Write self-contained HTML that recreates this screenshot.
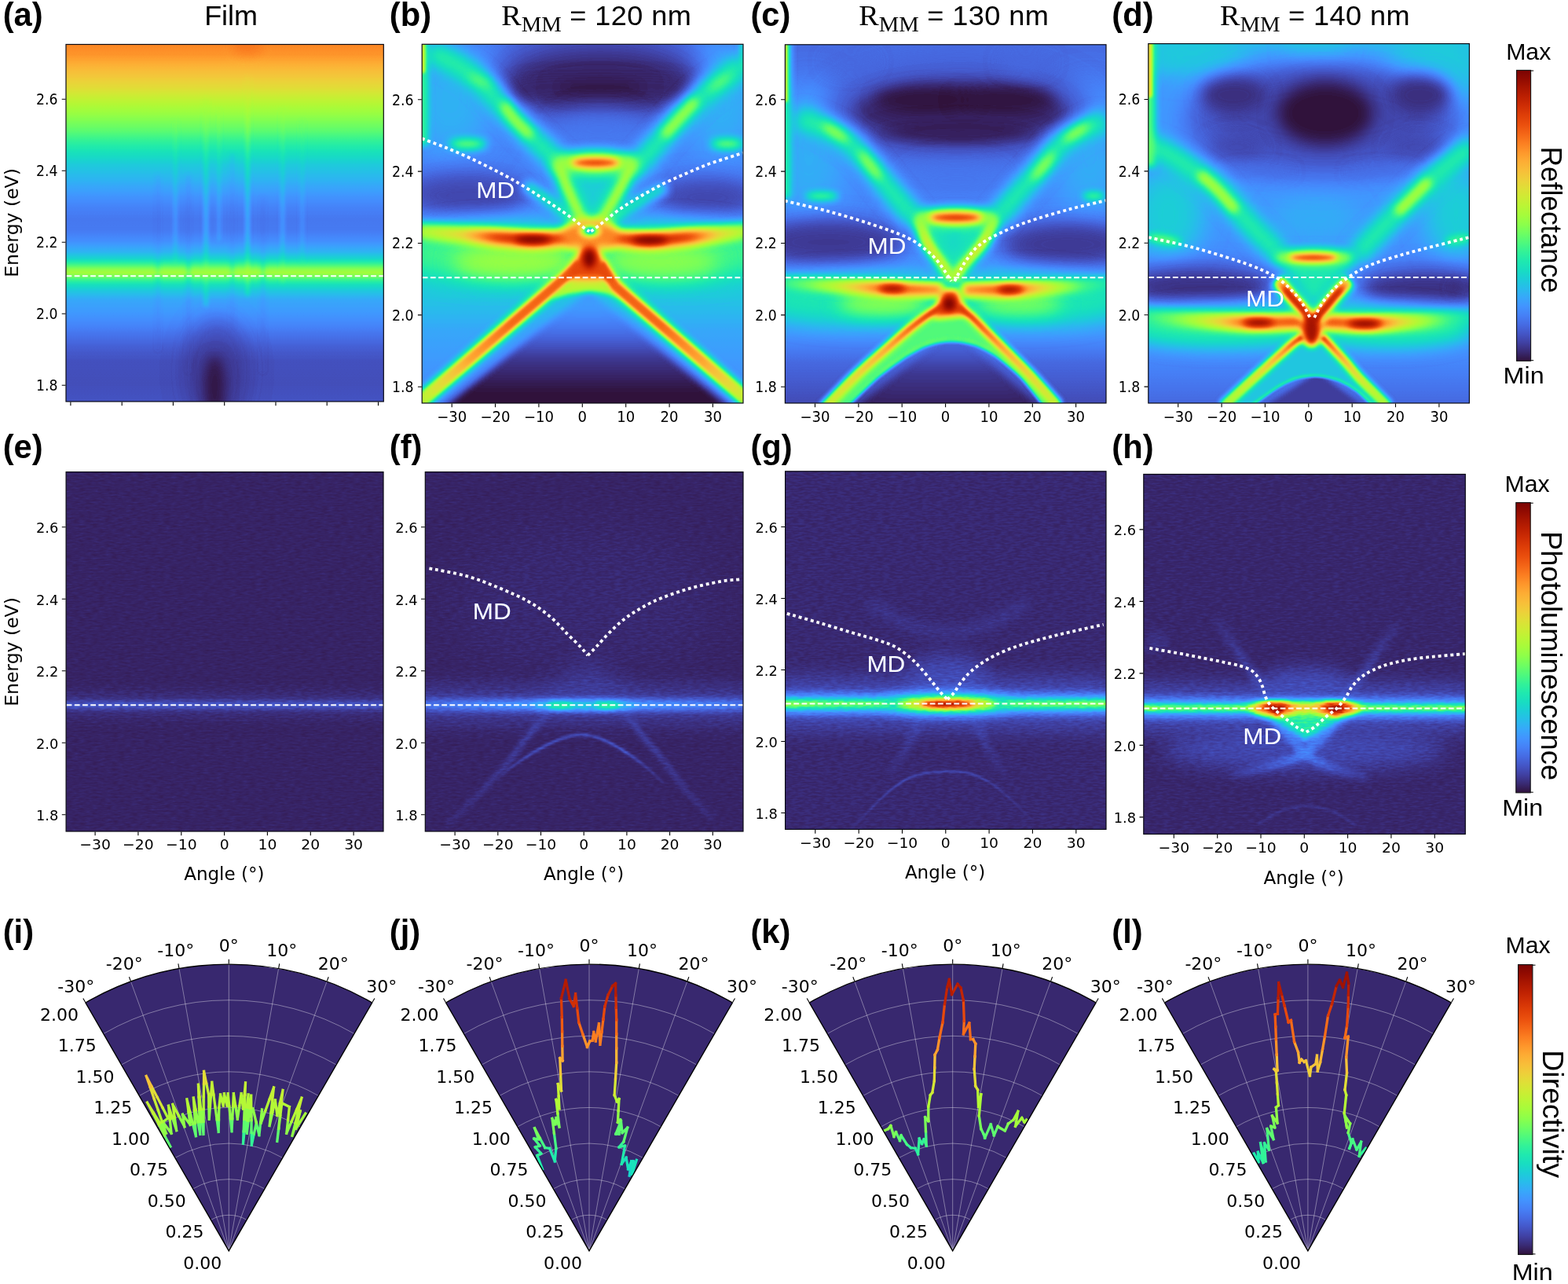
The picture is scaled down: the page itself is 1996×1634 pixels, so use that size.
<!DOCTYPE html>
<html><head><meta charset="utf-8"><title>Figure</title>
<style>
html,body{margin:0;padding:0;background:#fff}
svg{display:block}
.d{font-family:"DejaVu Sans", "Liberation Sans", sans-serif}
.s{font-family:"Liberation Sans", sans-serif}
.r{font-family:"Liberation Serif", serif}
</style></head><body>
<svg width="1996" height="1634" viewBox="0 0 1996 1634">
<defs><filter id="tb" filterUnits="userSpaceOnUse" x="-2" y="-2" width="420" height="466" color-interpolation-filters="sRGB"><feComponentTransfer><feFuncR type="table" tableValues="0.19 0.213 0.232 0.248 0.261 0.27 0.275 0.277 0.275 0.269 0.249 0.22 0.186 0.152 0.122 0.1 0.093 0.103 0.135 0.185 0.248 0.32 0.397 0.474 0.547 0.611 0.664 0.716 0.766 0.814 0.859 0.899 0.933 0.96 0.98 0.992 0.997 0.995 0.988 0.975 0.958 0.936 0.91 0.881 0.847 0.808 0.765 0.717 0.664 0.607 0.546 0.48"/><feFuncG type="table" tableValues="0.072 0.129 0.186 0.241 0.296 0.349 0.401 0.452 0.501 0.55 0.599 0.649 0.698 0.745 0.789 0.83 0.866 0.896 0.922 0.945 0.964 0.98 0.991 0.998 0.999 0.995 0.985 0.969 0.946 0.919 0.887 0.851 0.812 0.772 0.73 0.684 0.632 0.575 0.517 0.457 0.4 0.345 0.296 0.253 0.214 0.178 0.144 0.113 0.084 0.059 0.036 0.016"/><feFuncB type="table" tableValues="0.232 0.373 0.5 0.613 0.712 0.796 0.867 0.923 0.966 0.993 0.998 0.984 0.955 0.914 0.866 0.814 0.762 0.715 0.666 0.607 0.543 0.477 0.411 0.35 0.296 0.253 0.224 0.208 0.203 0.206 0.212 0.22 0.227 0.228 0.222 0.207 0.187 0.164 0.139 0.113 0.088 0.066 0.048 0.035 0.025 0.017 0.01 0.006 0.004 0.004 0.006 0.011"/></feComponentTransfer></filter><filter id="tp" filterUnits="userSpaceOnUse" x="-2" y="-2" width="420" height="466" color-interpolation-filters="sRGB"><feTurbulence type="fractalNoise" baseFrequency="0.12 0.45" numOctaves="2" seed="2" result="n"/><feColorMatrix in="n" type="matrix" values="1 0 0 0 0 1 0 0 0 0 1 0 0 0 0 0 0 0 0 1" result="ng"/><feComposite in="SourceGraphic" in2="ng" operator="arithmetic" k1="0" k2="1" k3="0.09" k4="-0.045"/><feComponentTransfer><feFuncR type="table" tableValues="0.19 0.19 0.19 0.19 0.195 0.195 0.2 0.204 0.209 0.213 0.217 0.221 0.229 0.232 0.239 0.245 0.251 0.256 0.261 0.267 0.27 0.273 0.276 0.277 0.277 0.275 0.273 0.263 0.249 0.227 0.2 0.179 0.145 0.122 0.104 0.093 0.097 0.12 0.163 0.221 0.29 0.366 0.443 0.533 0.599 0.664 0.726 0.786 0.841 0.891 0.939 0.969 0.99 0.997 0.992 0.975 0.95 0.916 0.874 0.816 0.746 0.664 0.583 0.48"/><feFuncG type="table" tableValues="0.072 0.072 0.072 0.072 0.083 0.083 0.095 0.107 0.118 0.129 0.141 0.152 0.175 0.186 0.208 0.23 0.252 0.274 0.296 0.328 0.349 0.38 0.411 0.441 0.472 0.501 0.53 0.57 0.599 0.639 0.678 0.707 0.754 0.789 0.822 0.859 0.885 0.912 0.936 0.957 0.974 0.987 0.996 0.999 0.996 0.985 0.965 0.936 0.9 0.858 0.804 0.755 0.694 0.621 0.54 0.457 0.377 0.305 0.245 0.185 0.131 0.084 0.049 0.016"/><feFuncB type="table" tableValues="0.232 0.232 0.232 0.232 0.261 0.261 0.29 0.318 0.346 0.373 0.4 0.426 0.476 0.5 0.547 0.591 0.634 0.674 0.712 0.764 0.796 0.84 0.879 0.913 0.942 0.966 0.985 0.998 0.998 0.989 0.968 0.948 0.905 0.866 0.824 0.772 0.733 0.687 0.631 0.569 0.503 0.437 0.373 0.306 0.26 0.224 0.206 0.203 0.209 0.219 0.227 0.227 0.21 0.183 0.149 0.113 0.079 0.051 0.033 0.018 0.009 0.004 0.005 0.011"/></feComponentTransfer></filter><filter id="b1_2" filterUnits="userSpaceOnUse" x="-150" y="-150" width="760" height="800" color-interpolation-filters="sRGB"><feGaussianBlur stdDeviation="1.2"/></filter><filter id="b1_5" filterUnits="userSpaceOnUse" x="-150" y="-150" width="760" height="800" color-interpolation-filters="sRGB"><feGaussianBlur stdDeviation="1.5"/></filter><filter id="b10" filterUnits="userSpaceOnUse" x="-150" y="-150" width="760" height="800" color-interpolation-filters="sRGB"><feGaussianBlur stdDeviation="10"/></filter><filter id="b11" filterUnits="userSpaceOnUse" x="-150" y="-150" width="760" height="800" color-interpolation-filters="sRGB"><feGaussianBlur stdDeviation="11"/></filter><filter id="b12" filterUnits="userSpaceOnUse" x="-150" y="-150" width="760" height="800" color-interpolation-filters="sRGB"><feGaussianBlur stdDeviation="12"/></filter><filter id="b13" filterUnits="userSpaceOnUse" x="-150" y="-150" width="760" height="800" color-interpolation-filters="sRGB"><feGaussianBlur stdDeviation="13"/></filter><filter id="b14" filterUnits="userSpaceOnUse" x="-150" y="-150" width="760" height="800" color-interpolation-filters="sRGB"><feGaussianBlur stdDeviation="14"/></filter><filter id="b16" filterUnits="userSpaceOnUse" x="-150" y="-150" width="760" height="800" color-interpolation-filters="sRGB"><feGaussianBlur stdDeviation="16"/></filter><filter id="b2" filterUnits="userSpaceOnUse" x="-150" y="-150" width="760" height="800" color-interpolation-filters="sRGB"><feGaussianBlur stdDeviation="2"/></filter><filter id="b2_2" filterUnits="userSpaceOnUse" x="-150" y="-150" width="760" height="800" color-interpolation-filters="sRGB"><feGaussianBlur stdDeviation="2.2"/></filter><filter id="b2_3" filterUnits="userSpaceOnUse" x="-150" y="-150" width="760" height="800" color-interpolation-filters="sRGB"><feGaussianBlur stdDeviation="2.3"/></filter><filter id="b2_5" filterUnits="userSpaceOnUse" x="-150" y="-150" width="760" height="800" color-interpolation-filters="sRGB"><feGaussianBlur stdDeviation="2.5"/></filter><filter id="b2_8" filterUnits="userSpaceOnUse" x="-150" y="-150" width="760" height="800" color-interpolation-filters="sRGB"><feGaussianBlur stdDeviation="2.8"/></filter><filter id="b2_9" filterUnits="userSpaceOnUse" x="-150" y="-150" width="760" height="800" color-interpolation-filters="sRGB"><feGaussianBlur stdDeviation="2.9"/></filter><filter id="b22" filterUnits="userSpaceOnUse" x="-150" y="-150" width="760" height="800" color-interpolation-filters="sRGB"><feGaussianBlur stdDeviation="22"/></filter><filter id="b3" filterUnits="userSpaceOnUse" x="-150" y="-150" width="760" height="800" color-interpolation-filters="sRGB"><feGaussianBlur stdDeviation="3"/></filter><filter id="b3_2" filterUnits="userSpaceOnUse" x="-150" y="-150" width="760" height="800" color-interpolation-filters="sRGB"><feGaussianBlur stdDeviation="3.2"/></filter><filter id="b3_5" filterUnits="userSpaceOnUse" x="-150" y="-150" width="760" height="800" color-interpolation-filters="sRGB"><feGaussianBlur stdDeviation="3.5"/></filter><filter id="b3_6" filterUnits="userSpaceOnUse" x="-150" y="-150" width="760" height="800" color-interpolation-filters="sRGB"><feGaussianBlur stdDeviation="3.6"/></filter><filter id="b30" filterUnits="userSpaceOnUse" x="-150" y="-150" width="760" height="800" color-interpolation-filters="sRGB"><feGaussianBlur stdDeviation="30"/></filter><filter id="b4" filterUnits="userSpaceOnUse" x="-150" y="-150" width="760" height="800" color-interpolation-filters="sRGB"><feGaussianBlur stdDeviation="4"/></filter><filter id="b4_5" filterUnits="userSpaceOnUse" x="-150" y="-150" width="760" height="800" color-interpolation-filters="sRGB"><feGaussianBlur stdDeviation="4.5"/></filter><filter id="b5" filterUnits="userSpaceOnUse" x="-150" y="-150" width="760" height="800" color-interpolation-filters="sRGB"><feGaussianBlur stdDeviation="5"/></filter><filter id="b5_5" filterUnits="userSpaceOnUse" x="-150" y="-150" width="760" height="800" color-interpolation-filters="sRGB"><feGaussianBlur stdDeviation="5.5"/></filter><filter id="b6" filterUnits="userSpaceOnUse" x="-150" y="-150" width="760" height="800" color-interpolation-filters="sRGB"><feGaussianBlur stdDeviation="6"/></filter><filter id="b7" filterUnits="userSpaceOnUse" x="-150" y="-150" width="760" height="800" color-interpolation-filters="sRGB"><feGaussianBlur stdDeviation="7"/></filter><filter id="b8" filterUnits="userSpaceOnUse" x="-150" y="-150" width="760" height="800" color-interpolation-filters="sRGB"><feGaussianBlur stdDeviation="8"/></filter><filter id="b9" filterUnits="userSpaceOnUse" x="-150" y="-150" width="760" height="800" color-interpolation-filters="sRGB"><feGaussianBlur stdDeviation="9"/></filter><linearGradient id="cb" x1="0" y1="1" x2="0" y2="0"><stop offset="0.000" stop-color="#30123b"/><stop offset="0.031" stop-color="#392a73"/><stop offset="0.062" stop-color="#4040a2"/><stop offset="0.094" stop-color="#4456c7"/><stop offset="0.125" stop-color="#466be3"/><stop offset="0.156" stop-color="#4680f6"/><stop offset="0.188" stop-color="#4294ff"/><stop offset="0.219" stop-color="#37a8fa"/><stop offset="0.250" stop-color="#28bceb"/><stop offset="0.281" stop-color="#1ccdd8"/><stop offset="0.312" stop-color="#18ddc2"/><stop offset="0.344" stop-color="#1fe9af"/><stop offset="0.375" stop-color="#32f298"/><stop offset="0.406" stop-color="#4ef97d"/><stop offset="0.438" stop-color="#6dfe62"/><stop offset="0.469" stop-color="#8bff4b"/><stop offset="0.500" stop-color="#a4fc3c"/><stop offset="0.531" stop-color="#b9f635"/><stop offset="0.562" stop-color="#cdec34"/><stop offset="0.594" stop-color="#dfdf37"/><stop offset="0.625" stop-color="#eecf3a"/><stop offset="0.656" stop-color="#f8be39"/><stop offset="0.688" stop-color="#fdac34"/><stop offset="0.719" stop-color="#fe962b"/><stop offset="0.750" stop-color="#fb7e21"/><stop offset="0.781" stop-color="#f46617"/><stop offset="0.812" stop-color="#eb500e"/><stop offset="0.844" stop-color="#df3f08"/><stop offset="0.875" stop-color="#d02f05"/><stop offset="0.906" stop-color="#be2102"/><stop offset="0.938" stop-color="#a91601"/><stop offset="0.969" stop-color="#920b01"/><stop offset="1.000" stop-color="#7a0403"/></linearGradient></defs>
<rect width="1996" height="1634" fill="#fff"/>
<svg x="84" y="56.5" width="404.3" height="454.5" viewBox="0 0 404.3 454.5" overflow="hidden"><defs><linearGradient id="ga0" gradientUnits="userSpaceOnUse" x1="0" y1="0" x2="0" y2="454.5"><stop offset="-0.0011" stop-color="#bdbdbd"/><stop offset="0.0295" stop-color="#b8b8b8"/><stop offset="0.0602" stop-color="#adadad"/><stop offset="0.0908" stop-color="#a3a3a3"/><stop offset="0.1214" stop-color="#999999"/><stop offset="0.1521" stop-color="#8c8c8c"/><stop offset="0.1827" stop-color="#808080"/><stop offset="0.2133" stop-color="#757575"/><stop offset="0.2439" stop-color="#6b6b6b"/><stop offset="0.2746" stop-color="#5e5e5e"/><stop offset="0.3052" stop-color="#525252"/><stop offset="0.3358" stop-color="#474747"/><stop offset="0.3665" stop-color="#404040"/><stop offset="0.3971" stop-color="#383838"/><stop offset="0.4277" stop-color="#303030"/><stop offset="0.4584" stop-color="#292929"/><stop offset="0.4890" stop-color="#252525"/><stop offset="0.5196" stop-color="#262626"/><stop offset="0.5502" stop-color="#2e2e2e"/><stop offset="0.5809" stop-color="#3d3d3d"/><stop offset="0.5993" stop-color="#4c4c4c"/><stop offset="0.6176" stop-color="#666666"/><stop offset="0.6299" stop-color="#787878"/><stop offset="0.6391" stop-color="#808080"/><stop offset="0.6483" stop-color="#737373"/><stop offset="0.6605" stop-color="#616161"/><stop offset="0.6728" stop-color="#525252"/><stop offset="0.6911" stop-color="#454545"/><stop offset="0.7156" stop-color="#383838"/><stop offset="0.7463" stop-color="#333333"/><stop offset="0.7830" stop-color="#2b2b2b"/><stop offset="0.8259" stop-color="#202020"/><stop offset="0.8565" stop-color="#1a1a1a"/><stop offset="0.8872" stop-color="#161616"/><stop offset="0.9484" stop-color="#151515"/><stop offset="0.9999" stop-color="#171717"/></linearGradient></defs><g filter="url(#tb)"><rect x="-60" y="-60" width="524.3" height="574.5" fill="url(#ga0)"/><path d="M178.2 69.1 L178.2 333.6" fill="none" stroke="#808080" stroke-width="5" stroke-opacity="0.25" filter="url(#b2_5)"/><path d="M231.1 41.3 L231.1 319.7" fill="none" stroke="#999999" stroke-width="4" stroke-opacity="0.25" filter="url(#b2_5)"/><path d="M275.6 83 L275.6 305.8" fill="none" stroke="#808080" stroke-width="4" stroke-opacity="0.2" filter="url(#b2_5)"/><path d="M155.9 166.6 L155.9 417.1" fill="none" stroke="#1a1a1a" stroke-width="4" stroke-opacity="0.2" filter="url(#b2_5)"/><path d="M139.2 97 L139.2 277.9" fill="none" stroke="#808080" stroke-width="4" stroke-opacity="0.18" filter="url(#b2_5)"/><path d="M250.6 194.4 L250.6 417.1" fill="none" stroke="#1a1a1a" stroke-width="4" stroke-opacity="0.2" filter="url(#b2_5)"/><path d="M300.7 97 L300.7 277.9" fill="none" stroke="#737373" stroke-width="4" stroke-opacity="0.15" filter="url(#b2_5)"/><path d="M116.9 166.6 L116.9 389.3" fill="none" stroke="#1a1a1a" stroke-width="4" stroke-opacity="0.15" filter="url(#b2_5)"/><path d="M211.6 138.7 L211.6 361.5" fill="none" stroke="#1a1a1a" stroke-width="4" stroke-opacity="0.18" filter="url(#b2_5)"/><path d="M194.9 83 L194.9 250.1" fill="none" stroke="#808080" stroke-width="4" stroke-opacity="0.15" filter="url(#b2_5)"/><ellipse cx="231.1" cy="2.3" rx="19.5" ry="11.1" fill="#cccccc" fill-opacity="0.4" filter="url(#b7)"/><ellipse cx="192.1" cy="417.1" rx="41.8" ry="72.4" fill="#080808" fill-opacity="0.5" filter="url(#b14)"/><ellipse cx="189.3" cy="436.6" rx="13.4" ry="41.8" fill="#000000" fill-opacity="0.9" filter="url(#b8)"/></g><path d="M0.5 294.8H404.3" stroke="#fff" stroke-width="2" stroke-dasharray="6.8 3.4" fill="none"/></svg>
<rect x="84" y="56.5" width="404.3" height="454.5" fill="none" stroke="#0a0a14" stroke-width="1.2"/>
<text class="d" transform="translate(73.4 497.1) scale(0.93 1)" font-size="18.6" text-anchor="end">1.8</text>
<text class="d" transform="translate(73.4 406.1) scale(0.93 1)" font-size="18.6" text-anchor="end">2.0</text>
<text class="d" transform="translate(73.4 315.1) scale(0.93 1)" font-size="18.6" text-anchor="end">2.2</text>
<text class="d" transform="translate(73.4 224.1) scale(0.93 1)" font-size="18.6" text-anchor="end">2.4</text>
<text class="d" transform="translate(73.4 133.1) scale(0.93 1)" font-size="18.6" text-anchor="end">2.6</text>
<path d="M83.5 490.2h-4.8M83.5 399.2h-4.8M83.5 308.2h-4.8M83.5 217.2h-4.8M83.5 126.2h-4.8M89.9 511.5v4.8M155.2 511.5v4.8M220.4 511.5v4.8M285.7 511.5v4.8M351 511.5v4.8M416.2 511.5v4.8M481.5 511.5v4.8" stroke="#000" stroke-width="1.1" fill="none"/>
<svg x="537.2" y="56.3" width="408.8" height="456.7" viewBox="0 0 408.8 456.7" overflow="hidden"><defs><linearGradient id="gb0" gradientUnits="userSpaceOnUse" x1="0" y1="0" x2="0" y2="456.7"><stop offset="-0.0007" stop-color="#262626"/><stop offset="0.2444" stop-color="#292929"/><stop offset="0.4894" stop-color="#303030"/><stop offset="0.6119" stop-color="#474747"/><stop offset="0.7038" stop-color="#454545"/><stop offset="0.7957" stop-color="#383838"/><stop offset="1.0003" stop-color="#2b2b2b"/></linearGradient><linearGradient id="gb1" gradientUnits="userSpaceOnUse" x1="-0.2" y1="335.4" x2="-0.2" y2="441.7"><stop offset="0" stop-color="#333333"/><stop offset="0.3" stop-color="#212121"/><stop offset="0.6" stop-color="#0d0d0d"/><stop offset="1" stop-color="#000000"/></linearGradient><linearGradient id="gb2" gradientUnits="userSpaceOnUse" x1="-11.4" y1="237.5" x2="195.6" y2="245.9"><stop offset="0" stop-color="#808080"/><stop offset="0.3" stop-color="#9e9e9e"/><stop offset="0.5" stop-color="#d9d9d9"/><stop offset="0.75" stop-color="#f2f2f2"/><stop offset="1" stop-color="#cccccc"/></linearGradient><linearGradient id="gb3" gradientUnits="userSpaceOnUse" x1="419.4" y1="237.5" x2="232" y2="245.9"><stop offset="0" stop-color="#808080"/><stop offset="0.22" stop-color="#9e9e9e"/><stop offset="0.42" stop-color="#d9d9d9"/><stop offset="0.7" stop-color="#f2f2f2"/><stop offset="1" stop-color="#cccccc"/></linearGradient><linearGradient id="gb4" gradientUnits="userSpaceOnUse" x1="201.2" y1="279.5" x2="-17" y2="467.7"><stop offset="0" stop-color="#cccccc"/><stop offset="0.4" stop-color="#c7c7c7"/><stop offset="0.65" stop-color="#b2b2b2"/><stop offset="0.85" stop-color="#949494"/><stop offset="1" stop-color="#7a7a7a"/></linearGradient><linearGradient id="gb5" gradientUnits="userSpaceOnUse" x1="226.4" y1="279.5" x2="430.6" y2="467.7"><stop offset="0" stop-color="#cccccc"/><stop offset="0.4" stop-color="#c7c7c7"/><stop offset="0.65" stop-color="#b2b2b2"/><stop offset="0.85" stop-color="#949494"/><stop offset="1" stop-color="#7a7a7a"/></linearGradient></defs><g filter="url(#tb)"><rect x="-60" y="-60" width="528.8" height="576.7" fill="url(#gb0)"/><ellipse cx="36.2" cy="69.6" rx="58.7" ry="72.7" fill="#404040" fill-opacity="0.85" filter="url(#b22)"/><ellipse cx="380.3" cy="69.6" rx="50.4" ry="72.7" fill="#404040" fill-opacity="0.85" filter="url(#b22)"/><ellipse cx="226.4" cy="38.9" rx="134.3" ry="64.3" fill="#171717" filter="url(#b16)"/><ellipse cx="226.4" cy="45.9" rx="114.7" ry="37.8" fill="#080808" filter="url(#b12)"/><path d="M111.7 66.8C116.4 65 120.6 58 139.7 55.7C158.8 53.3 197 52.9 226.4 52.9C255.8 52.9 296.3 53.3 315.9 55.7C335.5 58 339.2 65 343.9 66.8" fill="none" stroke="#080808" stroke-width="22" filter="url(#b9)"/><ellipse cx="226.4" cy="54.3" rx="61.5" ry="9" fill="#000000" fill-opacity="0.85" filter="url(#b10)"/><ellipse cx="226.4" cy="108.8" rx="56" ry="25.2" fill="#262626" fill-opacity="0.8" filter="url(#b14)"/><ellipse cx="55.8" cy="187.1" rx="89.5" ry="29.4" fill="#1a1a1a" filter="url(#b13)"/><ellipse cx="58.5" cy="192.7" rx="69.9" ry="19.6" fill="#121212" fill-opacity="0.9" filter="url(#b11)"/><ellipse cx="360.7" cy="192.7" rx="75.5" ry="26.6" fill="#1a1a1a" filter="url(#b13)"/><ellipse cx="363.5" cy="195.5" rx="56" ry="17.3" fill="#121212" fill-opacity="0.9" filter="url(#b11)"/><ellipse cx="92.1" cy="265.5" rx="128.7" ry="36.4" fill="#666666" fill-opacity="0.95" filter="url(#b14)"/><ellipse cx="327.1" cy="265.5" rx="120.3" ry="36.4" fill="#666666" fill-opacity="0.95" filter="url(#b14)"/><ellipse cx="117.3" cy="276.7" rx="78.3" ry="21" fill="#808080" fill-opacity="0.9" filter="url(#b12)"/><ellipse cx="304.7" cy="276.7" rx="72.7" ry="21" fill="#7a7a7a" fill-opacity="0.9" filter="url(#b12)"/><path d="M16.6 469.7 L212.4 313 L402.6 469.7Z" fill="url(#gb1)" filter="url(#b5)"/><path d="M178.8 156.4C177 154.3 173.7 150 167.7 144.1C161.6 138.1 150.9 128.7 142.5 120.6C134.1 112.4 128.5 107.4 117.3 95.4C106.1 83.3 87.9 60.1 75.3 48.4C62.7 36.6 53 31.6 41.8 24.9C30.6 18.2 13.8 10.9 8.2 8.1" fill="none" stroke="#616161" stroke-width="26" stroke-opacity="0.95" filter="url(#b9)"/><path d="M265.6 162C269.3 158.2 281 147 287.9 139.6C294.8 132.1 296.8 128.5 307 117.2C317.1 105.9 336.9 83.3 348.9 71.9C361 60.4 369.2 56.2 379.1 48.4C389.1 40.5 403.9 28.8 408.8 24.9" fill="none" stroke="#616161" stroke-width="26" stroke-opacity="0.95" filter="url(#b9)"/><path d="M139.7 117.2C135.9 113.6 123.4 102.4 117.3 95.4C111.2 88.4 105.6 78.6 103.3 75.2" fill="none" stroke="#8c8c8c" stroke-width="11" stroke-opacity="0.9" filter="url(#b6)"/><path d="M307.5 117.2C311.3 113 322.9 99.7 329.9 92C336.9 84.3 346.2 74.5 349.5 71" fill="none" stroke="#8c8c8c" stroke-width="11" stroke-opacity="0.9" filter="url(#b6)"/><ellipse cx="58.5" cy="127" rx="23.8" ry="5" fill="#8c8c8c" fill-opacity="0.95" filter="url(#b6)"/><ellipse cx="388.7" cy="127" rx="21" ry="5" fill="#8c8c8c" fill-opacity="0.95" filter="url(#b6)"/><ellipse cx="73.9" cy="46.7" rx="16.8" ry="4.5" fill="#787878" fill-opacity="0.8" transform="rotate(25 73.9 46.7)" filter="url(#b6)"/><ellipse cx="379.1" cy="48.4" rx="16.8" ry="4.5" fill="#787878" fill-opacity="0.8" transform="rotate(-35 379.1 48.4)" filter="url(#b6)"/><path d="M0.9 -5.9 L0.9 128.4" fill="none" stroke="#6b6b6b" stroke-width="12" stroke-opacity="0.9" filter="url(#b4)"/><path d="M0.4 -5.9 L0.4 36.1" fill="none" stroke="#9e9e9e" stroke-width="6" stroke-opacity="0.9" filter="url(#b2)"/><path d="M407.7 -5.9 L407.7 33.3" fill="none" stroke="#5c5c5c" stroke-width="6" stroke-opacity="0.9" filter="url(#b3)"/><path d="M178.8 156.4 L262.8 156.4 L215.2 234.7Z" fill="#4c4c4c" fill-opacity="0.9" filter="url(#b8)"/><path d="M173.2 150.8C175.1 155.9 179.8 170.3 184.4 181.5C189.1 192.7 196.3 208.6 201.2 217.9C206.1 227.2 211.7 234.2 213.8 237.5" fill="none" stroke="#757575" stroke-width="20" stroke-opacity="0.95" filter="url(#b7)"/><path d="M173.2 150.8C175.1 155.9 179.8 170.3 184.4 181.5C189.1 192.7 196.3 208.6 201.2 217.9C206.1 227.2 211.7 234.2 213.8 237.5" fill="none" stroke="#999999" stroke-width="8" stroke-opacity="0.6" filter="url(#b4_5)"/><path d="M268.4 150.8C265.6 156.4 257.6 173.1 251.6 184.3C245.5 195.5 238.1 209 232 217.9C225.9 226.8 218 234.2 215.2 237.5" fill="none" stroke="#757575" stroke-width="20" stroke-opacity="0.95" filter="url(#b7)"/><path d="M268.4 150.8C265.6 156.4 257.6 173.1 251.6 184.3C245.5 195.5 238.1 209 232 217.9C225.9 226.8 218 234.2 215.2 237.5" fill="none" stroke="#999999" stroke-width="8" stroke-opacity="0.6" filter="url(#b4_5)"/><path d="M131.3 178.7C137.3 182.9 155.1 194.1 167.7 203.9C180.2 213.7 200.3 231.9 206.8 237.5" fill="none" stroke="#737373" stroke-width="12" stroke-opacity="0.7" filter="url(#b6)"/><path d="M310.3 181.5C302.9 185.7 280 197.4 265.6 206.7C251.1 216 230.6 232.4 223.6 237.5" fill="none" stroke="#737373" stroke-width="12" stroke-opacity="0.7" filter="url(#b6)"/><ellipse cx="220.8" cy="150.8" rx="56" ry="15.4" fill="#808080" filter="url(#b7)"/><ellipse cx="220.8" cy="150.8" rx="30.8" ry="5.6" fill="#e0e0e0" filter="url(#b4_5)"/><path d="M-11.4 237.5C2.1 238.5 44.3 241.8 69.7 243.6C95.1 245.5 120.1 248 141.1 248.4C162.1 248.8 186.5 246.3 195.6 245.9" fill="none" stroke="url(#gb2)" stroke-width="19" filter="url(#b5_5)"/><path d="M419.4 237.5C409.2 238.5 379.5 241.7 357.9 243.6C336.3 245.6 310.9 248.9 289.9 249.2C268.9 249.6 241.6 246.4 232 245.9" fill="none" stroke="url(#gb3)" stroke-width="19" filter="url(#b5_5)"/><ellipse cx="141.1" cy="248.4" rx="22.4" ry="4.5" fill="#ffffff" filter="url(#b4)"/><ellipse cx="289.9" cy="249.5" rx="22.4" ry="4.5" fill="#ffffff" filter="url(#b4)"/><ellipse cx="213.8" cy="243.1" rx="36.4" ry="19.6" fill="#bdbdbd" filter="url(#b6)"/><path d="M164.9 321.4C163 318.9 170.7 307.4 178.8 301.8C187 296.2 202.2 287.8 213.8 287.8C225.5 287.8 240.6 296.2 248.8 301.8C256.9 307.4 264.6 318.9 262.8 321.4C260.9 324 245.8 318.4 237.6 317.2C229.4 316.1 221.7 314.4 213.8 314.4C205.9 314.4 198.2 316.1 190 317.2C181.9 318.4 166.7 324 164.9 321.4Z" fill="#8c8c8c" filter="url(#b3_5)"/><path d="M201.2 279.5 L168.8 308 L113.7 355.3 L55.5 405.3 L6.5 447.3 L-17 467.7" fill="none" stroke="#808080" stroke-width="20" filter="url(#b4)"/><path d="M201.2 279.5 L168.8 308 L113.7 355.3 L55.5 405.3 L6.5 447.3 L-17 467.7" fill="none" stroke="url(#gb4)" stroke-width="13" filter="url(#b2_3)"/><path d="M226.4 279.5 L246 308 L301.1 355.3 L359.3 405.3 L408 447.3 L430.6 467.7" fill="none" stroke="#808080" stroke-width="20" filter="url(#b4)"/><path d="M226.4 279.5 L246 308 L301.1 355.3 L359.3 405.3 L408 447.3 L430.6 467.7" fill="none" stroke="url(#gb5)" stroke-width="13" filter="url(#b2_3)"/><path d="M205.4 255.7 L220.8 255.7 L243.2 299 L181.6 299Z" fill="#d4d4d4" filter="url(#b4)"/><ellipse cx="213" cy="272.5" rx="8.4" ry="12.6" fill="#ffffff" filter="url(#b4_5)"/><ellipse cx="213.8" cy="237.5" rx="13.4" ry="8.4" fill="#808080" filter="url(#b3)"/><ellipse cx="213.8" cy="237.5" rx="6.7" ry="3.9" fill="#333333" filter="url(#b2_5)"/></g><path d="M-0.2 120C4.5 121.8 18.5 126.9 27.8 130.6C37.1 134.4 46.4 138.2 55.8 142.4C65.1 146.6 74.4 151.1 83.7 155.8C93.1 160.5 102.4 165.1 111.7 170.3C121 175.6 130.4 181.3 139.7 187.1C149 193 159.3 199.7 167.7 205.3C176 210.9 183.5 215.9 190 220.7C196.6 225.5 203 231.2 206.8 234.1C210.6 237 211.9 237.4 213 238.1" stroke="#fff" stroke-width="3.8" stroke-dasharray="3.9 3.9" fill="none"/><path d="M215.2 238.1C216.6 237 217.5 236.6 223.6 231.9C229.7 227.2 242.3 216.6 251.6 210.1C260.9 203.5 270.2 198.2 279.6 192.7C288.9 187.3 298.2 182 307.5 177.3C316.9 172.7 326.2 168.8 335.5 164.8C344.8 160.7 354.2 156.5 363.5 153C372.8 149.5 383.9 146.2 391.5 143.8C399 141.3 405.9 139.1 408.8 138.2" stroke="#fff" stroke-width="3.8" stroke-dasharray="3.9 3.9" fill="none"/><text class="s" transform="translate(69.1 195.4) scale(1.06 1)" font-size="29.7" fill="#fff" stroke="#2a50e0" stroke-opacity="0.5" stroke-width="0.5" paint-order="stroke">MD</text><path d="M0.5 297H408.8" stroke="#fff" stroke-width="2" stroke-dasharray="6.8 3.4" fill="none"/></svg>
<rect x="537.2" y="56.3" width="408.8" height="456.7" fill="none" stroke="#0a0a14" stroke-width="1.2"/>
<text class="d" transform="translate(526.6 499.2) scale(0.93 1)" font-size="18.6" text-anchor="end">1.8</text>
<text class="d" transform="translate(526.6 407.8) scale(0.93 1)" font-size="18.6" text-anchor="end">2.0</text>
<text class="d" transform="translate(526.6 316.4) scale(0.93 1)" font-size="18.6" text-anchor="end">2.2</text>
<text class="d" transform="translate(526.6 225) scale(0.93 1)" font-size="18.6" text-anchor="end">2.4</text>
<text class="d" transform="translate(526.6 133.6) scale(0.93 1)" font-size="18.6" text-anchor="end">2.6</text>
<text class="d" transform="translate(575.2 537.2) scale(0.95 1)" font-size="19" text-anchor="middle">−30</text>
<text class="d" transform="translate(630.5 537.2) scale(0.95 1)" font-size="19" text-anchor="middle">−20</text>
<text class="d" transform="translate(685.9 537.2) scale(0.95 1)" font-size="19" text-anchor="middle">−10</text>
<text class="d" transform="translate(741.3 537.2) scale(0.95 1)" font-size="19" text-anchor="middle">0</text>
<text class="d" transform="translate(796.7 537.2) scale(0.95 1)" font-size="19" text-anchor="middle">10</text>
<text class="d" transform="translate(852.1 537.2) scale(0.95 1)" font-size="19" text-anchor="middle">20</text>
<text class="d" transform="translate(907.4 537.2) scale(0.95 1)" font-size="19" text-anchor="middle">30</text>
<path d="M536.7 492.3h-4.8M536.7 400.9h-4.8M536.7 309.5h-4.8M536.7 218.1h-4.8M536.7 126.7h-4.8M575.2 513.5v4.8M630.5 513.5v4.8M685.9 513.5v4.8M741.3 513.5v4.8M796.7 513.5v4.8M852.1 513.5v4.8M907.4 513.5v4.8" stroke="#000" stroke-width="1.1" fill="none"/>
<svg x="999.4" y="56.8" width="408.6" height="456.2" viewBox="0 0 408.6 456.2" overflow="hidden"><defs><linearGradient id="gc0" gradientUnits="userSpaceOnUse" x1="0" y1="0" x2="0" y2="456.2"><stop offset="0.0004" stop-color="#212121"/><stop offset="0.2756" stop-color="#242424"/><stop offset="0.4285" stop-color="#2b2b2b"/><stop offset="0.6120" stop-color="#303030"/><stop offset="0.7037" stop-color="#454545"/><stop offset="0.7955" stop-color="#333333"/><stop offset="0.8872" stop-color="#1f1f1f"/><stop offset="0.9997" stop-color="#141414"/></linearGradient><linearGradient id="gc1" gradientUnits="userSpaceOnUse" x1="-0.4" y1="379.6" x2="-0.4" y2="456.1"><stop offset="0" stop-color="#1f1f1f"/><stop offset="0.5" stop-color="#0d0d0d"/><stop offset="1" stop-color="#050505"/></linearGradient><linearGradient id="gc2" gradientUnits="userSpaceOnUse" x1="169.8" y1="220.6" x2="213" y2="298.7"><stop offset="0" stop-color="#808080"/><stop offset="0.4" stop-color="#b2b2b2"/><stop offset="1" stop-color="#999999"/></linearGradient><linearGradient id="gc3" gradientUnits="userSpaceOnUse" x1="267.4" y1="220.6" x2="214.4" y2="298.7"><stop offset="0" stop-color="#808080"/><stop offset="0.4" stop-color="#b2b2b2"/><stop offset="1" stop-color="#999999"/></linearGradient><linearGradient id="gc4" gradientUnits="userSpaceOnUse" x1="-11.6" y1="302.9" x2="200.5" y2="312.1"><stop offset="0" stop-color="#5c5c5c"/><stop offset="0.2" stop-color="#737373"/><stop offset="0.36" stop-color="#8c8c8c"/><stop offset="0.5" stop-color="#a8a8a8"/><stop offset="0.6" stop-color="#c2c2c2"/><stop offset="0.7" stop-color="#d9d9d9"/><stop offset="0.82" stop-color="#c7c7c7"/><stop offset="1" stop-color="#b8b8b8"/></linearGradient><linearGradient id="gc5" gradientUnits="userSpaceOnUse" x1="418.1" y1="304.3" x2="225.6" y2="312.1"><stop offset="0" stop-color="#545454"/><stop offset="0.2" stop-color="#666666"/><stop offset="0.36" stop-color="#858585"/><stop offset="0.5" stop-color="#a3a3a3"/><stop offset="0.6" stop-color="#c2c2c2"/><stop offset="0.7" stop-color="#d9d9d9"/><stop offset="0.82" stop-color="#c7c7c7"/><stop offset="1" stop-color="#b8b8b8"/></linearGradient><linearGradient id="gc6" gradientUnits="userSpaceOnUse" x1="201" y1="333.6" x2="49.8" y2="463.3"><stop offset="0" stop-color="#e0e0e0"/><stop offset="0.2" stop-color="#cccccc"/><stop offset="0.45" stop-color="#b2b2b2"/><stop offset="0.7" stop-color="#9e9e9e"/><stop offset="1" stop-color="#8c8c8c"/></linearGradient><linearGradient id="gc7" gradientUnits="userSpaceOnUse" x1="220" y1="333.6" x2="346.9" y2="460.5"><stop offset="0" stop-color="#e0e0e0"/><stop offset="0.2" stop-color="#cccccc"/><stop offset="0.45" stop-color="#b2b2b2"/><stop offset="0.7" stop-color="#9e9e9e"/><stop offset="1" stop-color="#8c8c8c"/></linearGradient></defs><g filter="url(#tb)"><rect x="-60" y="-60" width="528.6" height="576.2" fill="url(#gc0)"/><ellipse cx="30.3" cy="134.1" rx="53" ry="83.7" fill="#404040" fill-opacity="0.8" filter="url(#b22)"/><ellipse cx="387.4" cy="134.1" rx="47.4" ry="83.7" fill="#404040" fill-opacity="0.8" filter="url(#b22)"/><ellipse cx="222.8" cy="83.9" rx="173" ry="64.2" fill="#1a1a1a" fill-opacity="0.95" filter="url(#b16)"/><ellipse cx="222.8" cy="83.9" rx="136.7" ry="37.7" fill="#080808" filter="url(#b10)"/><ellipse cx="178.2" cy="69.9" rx="64.2" ry="16.7" fill="#000000" fill-opacity="0.9" filter="url(#b9)"/><ellipse cx="278.6" cy="69.9" rx="64.2" ry="16.7" fill="#000000" fill-opacity="0.9" filter="url(#b9)"/><ellipse cx="220" cy="111.8" rx="106" ry="13.9" fill="#030303" fill-opacity="0.9" filter="url(#b9)"/><ellipse cx="83.3" cy="22.5" rx="33.5" ry="13.9" fill="#1f1f1f" fill-opacity="0.8" filter="url(#b10)"/><ellipse cx="306.5" cy="22.5" rx="33.5" ry="13.9" fill="#1f1f1f" fill-opacity="0.8" filter="url(#b10)"/><ellipse cx="217.2" cy="173.2" rx="64.2" ry="22.3" fill="#242424" fill-opacity="0.7" filter="url(#b14)"/><ellipse cx="55.4" cy="251.3" rx="103.2" ry="30.7" fill="#131313" filter="url(#b13)"/><ellipse cx="55.4" cy="251.3" rx="80.9" ry="20.9" fill="#0d0d0d" fill-opacity="0.9" filter="url(#b11)"/><ellipse cx="359.5" cy="254.1" rx="92.1" ry="29.3" fill="#131313" filter="url(#b13)"/><ellipse cx="359.5" cy="254.1" rx="69.7" ry="19.5" fill="#0d0d0d" fill-opacity="0.9" filter="url(#b11)"/><ellipse cx="91.7" cy="323.8" rx="128.3" ry="30.7" fill="#595959" fill-opacity="0.95" filter="url(#b14)"/><ellipse cx="314.9" cy="323.8" rx="120" ry="30.7" fill="#595959" fill-opacity="0.95" filter="url(#b14)"/><ellipse cx="125.1" cy="329.4" rx="58.6" ry="15.3" fill="#808080" fill-opacity="0.85" filter="url(#b11)"/><ellipse cx="298.1" cy="329.4" rx="55.8" ry="15.3" fill="#7a7a7a" fill-opacity="0.85" filter="url(#b11)"/><path d="M72.1 474.5 L214.4 362.9 L340 474.5Z" fill="url(#gc1)" filter="url(#b5)"/><path d="M167 223.4C161.4 216.9 142.8 195.5 133.5 184.3C124.2 173.2 119.6 166.2 111.2 156.4C102.8 146.7 92.6 133.9 83.3 125.7C74 117.6 66.6 113.2 55.4 107.6C44.2 102 22.8 94.8 16.3 92.3" fill="none" stroke="#616161" stroke-width="26" stroke-opacity="0.95" filter="url(#b9)"/><path d="M267.4 223.4C273 216.9 291.6 195 300.9 184.3C310.2 173.6 315.3 168.5 323.2 159.2C331.1 149.9 340 136.4 348.3 128.5C356.7 120.6 363.7 117.4 373.4 111.8C383.2 106.2 401.3 97.8 406.9 95.1" fill="none" stroke="#616161" stroke-width="26" stroke-opacity="0.95" filter="url(#b9)"/><ellipse cx="63.8" cy="111.8" rx="20.9" ry="4.7" fill="#8c8c8c" fill-opacity="0.9" transform="rotate(33 63.8 111.8)" filter="url(#b6)"/><ellipse cx="108.4" cy="153.6" rx="23.7" ry="4.7" fill="#8c8c8c" fill-opacity="0.9" transform="rotate(52 108.4 153.6)" filter="url(#b6)"/><ellipse cx="370.7" cy="111.8" rx="20.9" ry="4.7" fill="#8c8c8c" fill-opacity="0.9" transform="rotate(-33 370.7 111.8)" filter="url(#b6)"/><ellipse cx="328.8" cy="155" rx="23.7" ry="4.7" fill="#8c8c8c" fill-opacity="0.9" transform="rotate(-50 328.8 155)" filter="url(#b6)"/><ellipse cx="47" cy="192.7" rx="20.9" ry="3.9" fill="#808080" fill-opacity="0.9" filter="url(#b5)"/><ellipse cx="393" cy="192.7" rx="13.9" ry="3.9" fill="#808080" fill-opacity="0.9" filter="url(#b5)"/><path d="M0.7 -5.4 L0.7 195.5" fill="none" stroke="#666666" stroke-width="11" stroke-opacity="0.9" filter="url(#b4)"/><path d="M0.2 -5.4 L0.2 72.7" fill="none" stroke="#999999" stroke-width="6" stroke-opacity="0.9" filter="url(#b2)"/><path d="M158.6 212.2 L275.8 212.2 L214.4 290.4Z" fill="#5c5c5c" fill-opacity="0.9" filter="url(#b8)"/><path d="M169.8 220.6C171.6 225.7 175.8 241.5 180.9 251.3C186.1 261.1 195.1 271.3 200.5 279.2C205.8 287.1 210.9 295.5 213 298.7" fill="none" stroke="#7a7a7a" stroke-width="17" stroke-opacity="0.9" filter="url(#b6)"/><path d="M169.8 220.6C171.6 225.7 175.8 241.5 180.9 251.3C186.1 261.1 195.1 271.3 200.5 279.2C205.8 287.1 210.9 295.5 213 298.7" fill="none" stroke="url(#gc2)" stroke-width="7" stroke-opacity="0.9" filter="url(#b4)"/><path d="M267.4 220.6C264.9 225.7 258.6 241.5 252.1 251.3C245.6 261.1 234.6 271.3 228.4 279.2C222.1 287.1 216.7 295.5 214.4 298.7" fill="none" stroke="#7a7a7a" stroke-width="17" stroke-opacity="0.9" filter="url(#b6)"/><path d="M267.4 220.6C264.9 225.7 258.6 241.5 252.1 251.3C245.6 261.1 234.6 271.3 228.4 279.2C222.1 287.1 216.7 295.5 214.4 298.7" fill="none" stroke="url(#gc3)" stroke-width="7" stroke-opacity="0.9" filter="url(#b4)"/><ellipse cx="214.4" cy="251.3" rx="12.6" ry="15.3" fill="#4c4c4c" fill-opacity="0.7" filter="url(#b7)"/><ellipse cx="217.2" cy="220" rx="53" ry="11.7" fill="#808080" filter="url(#b6)"/><ellipse cx="217.2" cy="220" rx="33.5" ry="5.6" fill="#e6e6e6" filter="url(#b4)"/><path d="M-11.6 302.9C1.9 303.6 44.7 305.8 69.3 307.1C94 308.3 114.5 309.6 136.3 310.4C158.2 311.3 189.8 311.8 200.5 312.1" fill="none" stroke="url(#gc4)" stroke-width="17" filter="url(#b5)"/><path d="M418.1 304.3C406.5 305 370.2 307.3 348.3 308.5C326.5 309.7 307.4 310.9 287 311.6C266.5 312.2 235.8 312 225.6 312.1" fill="none" stroke="url(#gc5)" stroke-width="17" filter="url(#b5)"/><ellipse cx="136.3" cy="310.7" rx="16.7" ry="3.9" fill="#fafafa" filter="url(#b4)"/><ellipse cx="287" cy="311.8" rx="16.2" ry="4.2" fill="#fafafa" filter="url(#b4)"/><path d="M52.6 463.3 L93.9 418.7 L128.5 388 L158.6 361.8 L182.3 343.9 L208.8 332.2 L236.7 346.1 L256.3 365.7 L281.4 390.8 L309.3 418.7 L348.3 463.3 L334.4 463.3 L302.3 422 L268.8 394.1 L245.1 381.3 L225.6 376.8 L210.5 375.7 L193.5 377.4 L175.4 383 L151.6 396.4 L116.8 422 L73.5 463.3Z" fill="#696969" filter="url(#b2_5)"/><path d="M73.5 463.3C80.7 456.4 103.8 433.2 116.8 422C129.8 410.9 141.9 402.9 151.6 396.4C161.4 389.9 168.4 386.1 175.4 383C182.3 379.8 187.6 378.6 193.5 377.4C199.4 376.2 205.2 375.8 210.5 375.7C215.9 375.6 219.8 375.9 225.6 376.8C231.3 377.8 237.9 378.4 245.1 381.3C252.3 384.2 259.3 387.3 268.8 394.1C278.4 400.9 291.4 410.5 302.3 422C313.2 433.6 329 456.4 334.4 463.3" fill="none" stroke="#858585" stroke-width="4" stroke-opacity="0.8" filter="url(#b2)"/><path d="M201 333.6C197.9 335.3 189.4 339.2 182.3 343.9C175.3 348.6 167.6 354.4 158.6 361.8C149.7 369.1 139.3 378.5 128.5 388C117.7 397.5 107 406.1 93.9 418.7C80.8 431.2 57.2 455.9 49.8 463.3" fill="none" stroke="#808080" stroke-width="15" filter="url(#b3_2)"/><path d="M201 333.6C197.9 335.3 189.4 339.2 182.3 343.9C175.3 348.6 167.6 354.4 158.6 361.8C149.7 369.1 139.3 378.5 128.5 388C117.7 397.5 107 406.1 93.9 418.7C80.8 431.2 57.2 455.9 49.8 463.3" fill="none" stroke="url(#gc6)" stroke-width="8.5" filter="url(#b2_3)"/><path d="M220 333.6C222.8 335.7 230.7 340.8 236.7 346.1C242.8 351.5 248.8 358.2 256.3 365.7C263.7 373.1 272.5 382 281.4 390.8C290.2 399.6 298.4 407.1 309.3 418.7C320.2 430.3 340.7 453.6 346.9 460.5" fill="none" stroke="#808080" stroke-width="15" filter="url(#b3_2)"/><path d="M220 333.6C222.8 335.7 230.7 340.8 236.7 346.1C242.8 351.5 248.8 358.2 256.3 365.7C263.7 373.1 272.5 382 281.4 390.8C290.2 399.6 298.4 407.1 309.3 418.7C320.2 430.3 340.7 453.6 346.9 460.5" fill="none" stroke="url(#gc7)" stroke-width="8.5" filter="url(#b2_3)"/><path d="M200.5 312.1 L219.4 312.1 L229.8 343.4 L189.3 347.5Z" fill="#d9d9d9" filter="url(#b4)"/><ellipse cx="208.8" cy="330" rx="8.9" ry="9.5" fill="#ffffff" filter="url(#b4_5)"/></g><path d="M-0.4 198.8C8.9 201.1 36.8 207.2 55.4 212.2C74 217.3 94.5 223.4 111.2 229C127.9 234.6 144.2 240.1 155.8 245.7C167.5 251.3 174.4 257.3 180.9 262.5C187.5 267.6 190.9 271.8 194.9 276.4C198.8 281.1 201.9 286.3 204.7 290.4C207.4 294.4 210.5 299.2 211.6 301" stroke="#fff" stroke-width="3.8" stroke-dasharray="3.9 3.9" fill="none"/><path d="M215.8 301C217 298.7 220.2 292.1 222.8 287.6C225.3 283 227.4 278.7 231.2 273.6C234.9 268.5 239.1 262 245.1 256.9C251.2 251.8 257.2 248 267.4 242.9C277.7 237.8 290.7 231.8 306.5 226.2C322.3 220.6 345.3 214.1 362.3 209.4C379.3 204.8 400.9 200.1 408.6 198.3" stroke="#fff" stroke-width="3.8" stroke-dasharray="3.9 3.9" fill="none"/><text class="s" transform="translate(105.2 265.8) scale(1.06 1)" font-size="29.7" fill="#fff" stroke="#2a50e0" stroke-opacity="0.5" stroke-width="0.5" paint-order="stroke">MD</text><path d="M0.5 296.5H408.6" stroke="#fff" stroke-width="2" stroke-dasharray="6.8 3.4" fill="none"/></svg>
<rect x="999.4" y="56.8" width="408.6" height="456.2" fill="none" stroke="#0a0a14" stroke-width="1.2"/>
<text class="d" transform="translate(988.8 499.2) scale(0.93 1)" font-size="18.6" text-anchor="end">1.8</text>
<text class="d" transform="translate(988.8 407.8) scale(0.93 1)" font-size="18.6" text-anchor="end">2.0</text>
<text class="d" transform="translate(988.8 316.4) scale(0.93 1)" font-size="18.6" text-anchor="end">2.2</text>
<text class="d" transform="translate(988.8 225) scale(0.93 1)" font-size="18.6" text-anchor="end">2.4</text>
<text class="d" transform="translate(988.8 133.6) scale(0.93 1)" font-size="18.6" text-anchor="end">2.6</text>
<text class="d" transform="translate(1037.5 537.2) scale(0.95 1)" font-size="19" text-anchor="middle">−30</text>
<text class="d" transform="translate(1092.9 537.2) scale(0.95 1)" font-size="19" text-anchor="middle">−20</text>
<text class="d" transform="translate(1148.2 537.2) scale(0.95 1)" font-size="19" text-anchor="middle">−10</text>
<text class="d" transform="translate(1203.6 537.2) scale(0.95 1)" font-size="19" text-anchor="middle">0</text>
<text class="d" transform="translate(1258.9 537.2) scale(0.95 1)" font-size="19" text-anchor="middle">10</text>
<text class="d" transform="translate(1314.3 537.2) scale(0.95 1)" font-size="19" text-anchor="middle">20</text>
<text class="d" transform="translate(1369.6 537.2) scale(0.95 1)" font-size="19" text-anchor="middle">30</text>
<path d="M998.9 492.3h-4.8M998.9 400.9h-4.8M998.9 309.5h-4.8M998.9 218.1h-4.8M998.9 126.7h-4.8M1037.5 513.5v4.8M1092.9 513.5v4.8M1148.2 513.5v4.8M1203.6 513.5v4.8M1258.9 513.5v4.8M1314.3 513.5v4.8M1369.6 513.5v4.8" stroke="#000" stroke-width="1.1" fill="none"/>
<svg x="1461.8" y="55.6" width="408.6" height="457.4" viewBox="0 0 408.6 457.4" overflow="hidden"><defs><linearGradient id="gd0" gradientUnits="userSpaceOnUse" x1="0" y1="0" x2="0" y2="457.4"><stop offset="0.0009" stop-color="#404040"/><stop offset="0.0926" stop-color="#333333"/><stop offset="0.4288" stop-color="#333333"/><stop offset="0.6123" stop-color="#2e2e2e"/><stop offset="0.7651" stop-color="#3b3b3b"/><stop offset="0.8568" stop-color="#2e2e2e"/><stop offset="0.9999" stop-color="#1f1f1f"/></linearGradient><linearGradient id="gd1" gradientUnits="userSpaceOnUse" x1="-11" y1="347.2" x2="201.5" y2="353.3"><stop offset="0" stop-color="#5c5c5c"/><stop offset="0.2" stop-color="#737373"/><stop offset="0.36" stop-color="#8c8c8c"/><stop offset="0.5" stop-color="#a8a8a8"/><stop offset="0.6" stop-color="#c7c7c7"/><stop offset="0.7" stop-color="#dedede"/><stop offset="0.85" stop-color="#d1d1d1"/><stop offset="1" stop-color="#d9d9d9"/></linearGradient><linearGradient id="gd2" gradientUnits="userSpaceOnUse" x1="419.7" y1="348.6" x2="218.3" y2="353.3"><stop offset="0" stop-color="#4c4c4c"/><stop offset="0.2" stop-color="#666666"/><stop offset="0.36" stop-color="#858585"/><stop offset="0.5" stop-color="#a3a3a3"/><stop offset="0.6" stop-color="#c7c7c7"/><stop offset="0.7" stop-color="#dedede"/><stop offset="0.85" stop-color="#d1d1d1"/><stop offset="1" stop-color="#d9d9d9"/></linearGradient><linearGradient id="gd3" gradientUnits="userSpaceOnUse" x1="165.2" y1="301" x2="208.5" y2="352.8"><stop offset="0" stop-color="#999999"/><stop offset="0.25" stop-color="#e0e0e0"/><stop offset="1" stop-color="#e6e6e6"/></linearGradient><linearGradient id="gd4" gradientUnits="userSpaceOnUse" x1="254.7" y1="301.9" x2="209.9" y2="352.8"><stop offset="0" stop-color="#999999"/><stop offset="0.25" stop-color="#e0e0e0"/><stop offset="1" stop-color="#e6e6e6"/></linearGradient><linearGradient id="gd5" gradientUnits="userSpaceOnUse" x1="196.2" y1="372.9" x2="95.3" y2="461.8"><stop offset="0" stop-color="#dbdbdb"/><stop offset="0.2" stop-color="#bfbfbf"/><stop offset="0.45" stop-color="#a1a1a1"/><stop offset="0.7" stop-color="#8f8f8f"/><stop offset="1" stop-color="#808080"/></linearGradient><linearGradient id="gd6" gradientUnits="userSpaceOnUse" x1="221.1" y1="372.9" x2="305" y2="461.8"><stop offset="0" stop-color="#dbdbdb"/><stop offset="0.2" stop-color="#bfbfbf"/><stop offset="0.45" stop-color="#a1a1a1"/><stop offset="0.7" stop-color="#8f8f8f"/><stop offset="1" stop-color="#808080"/></linearGradient></defs><g filter="url(#tb)"><rect x="-60" y="-60" width="528.6" height="577.4" fill="url(#gd0)"/><ellipse cx="56.1" cy="17.2" rx="69.9" ry="25.2" fill="#4a4a4a" fill-opacity="0.8" filter="url(#b14)"/><ellipse cx="363.7" cy="34" rx="61.5" ry="47.5" fill="#4a4a4a" fill-opacity="0.8" filter="url(#b14)"/><ellipse cx="212.7" cy="6" rx="41.9" ry="14" fill="#4c4c4c" fill-opacity="0.7" filter="url(#b10)"/><ellipse cx="25.4" cy="218.5" rx="44.7" ry="55.9" fill="#4c4c4c" fill-opacity="0.85" filter="url(#b16)"/><ellipse cx="391.7" cy="218.5" rx="39.2" ry="55.9" fill="#4c4c4c" fill-opacity="0.85" filter="url(#b16)"/><ellipse cx="212.7" cy="224.1" rx="55.9" ry="33.6" fill="#404040" fill-opacity="0.6" filter="url(#b14)"/><ellipse cx="221.1" cy="98.3" rx="179" ry="75.5" fill="#1a1a1a" fill-opacity="0.95" filter="url(#b16)"/><ellipse cx="223.9" cy="89.9" rx="139.8" ry="53.1" fill="#141414" fill-opacity="0.9" filter="url(#b14)"/><ellipse cx="107.9" cy="65.3" rx="41.9" ry="23.8" fill="#0a0a0a" filter="url(#b10)"/><ellipse cx="347" cy="65.3" rx="39.2" ry="25.2" fill="#0a0a0a" filter="url(#b10)"/><ellipse cx="112.1" cy="131.8" rx="36.4" ry="16.8" fill="#121212" fill-opacity="0.8" filter="url(#b10)"/><ellipse cx="341.4" cy="131.8" rx="36.4" ry="16.8" fill="#121212" fill-opacity="0.8" filter="url(#b10)"/><ellipse cx="225.3" cy="88.5" rx="62.9" ry="41.9" fill="#000000" filter="url(#b11)"/><ellipse cx="140" cy="162.6" rx="44.7" ry="7" fill="#212121" fill-opacity="0.8" filter="url(#b8)"/><ellipse cx="296.6" cy="162.6" rx="44.7" ry="7" fill="#212121" fill-opacity="0.8" filter="url(#b8)"/><ellipse cx="64.5" cy="305.2" rx="100.7" ry="25.7" fill="#121212" filter="url(#b12)"/><ellipse cx="64.5" cy="310.8" rx="83.9" ry="15.4" fill="#0a0a0a" fill-opacity="0.9" filter="url(#b9)"/><ellipse cx="352.6" cy="308" rx="89.5" ry="24.6" fill="#121212" filter="url(#b12)"/><ellipse cx="352.6" cy="312.2" rx="75.5" ry="14.5" fill="#0a0a0a" fill-opacity="0.9" filter="url(#b9)"/><ellipse cx="388.9" cy="310.8" rx="8.4" ry="8.4" fill="#0a0a0a" fill-opacity="0.8" filter="url(#b5)"/><ellipse cx="92.5" cy="361.1" rx="125.8" ry="23.8" fill="#616161" fill-opacity="0.95" filter="url(#b12)"/><ellipse cx="307.8" cy="361.1" rx="106.3" ry="23.8" fill="#616161" fill-opacity="0.95" filter="url(#b12)"/><path d="M126 475.8 L215.5 417.1 L293.8 475.8Z" fill="#0f0f0f" filter="url(#b3)"/><path d="M168 268.9C162.4 263.3 144.7 246 134.4 235.3C124.2 224.6 114.9 213.9 106.5 204.5C98.1 195.2 92.5 186.8 84.1 179.4C75.7 171.9 65.5 166.1 56.1 159.8C46.8 153.5 38.4 147.2 28.2 141.6C17.9 136 0.2 128.8 -5.4 126.2" fill="none" stroke="#616161" stroke-width="26" stroke-opacity="0.95" filter="url(#b9)"/><path d="M265.9 268.9C271 263.3 287.3 245.1 296.6 235.3C305.9 225.5 312.9 219 321.8 210.1C330.6 201.3 340.4 191 349.8 182.2C359.1 173.3 367 165.9 377.7 157C388.4 148.1 408 133.7 414.1 129" fill="none" stroke="#616161" stroke-width="26" stroke-opacity="0.95" filter="url(#b9)"/><path d="M64.5 165.4C68.2 168.7 79 177 86.9 185C94.8 192.9 107.9 208.3 112.1 212.9" fill="none" stroke="#919191" stroke-width="11" stroke-opacity="0.9" filter="url(#b5_5)"/><path d="M316.2 215.7C319.5 212.5 328.8 203.1 335.8 196.2C342.8 189.2 354.4 177.5 358.1 173.8" fill="none" stroke="#919191" stroke-width="11" stroke-opacity="0.9" filter="url(#b5_5)"/><ellipse cx="19.8" cy="249.3" rx="22.4" ry="4.5" fill="#808080" fill-opacity="0.9" transform="rotate(10 19.8 249.3)" filter="url(#b5)"/><ellipse cx="394.5" cy="249.3" rx="16.8" ry="4.5" fill="#737373" fill-opacity="0.9" transform="rotate(-10 394.5 249.3)" filter="url(#b5)"/><path d="M1.3 -5.2 L1.3 157" fill="none" stroke="#737373" stroke-width="14" stroke-opacity="0.9" filter="url(#b4_5)"/><path d="M0.8 -5.2 L0.8 67.5" fill="none" stroke="#a8a8a8" stroke-width="7" stroke-opacity="0.9" filter="url(#b2_2)"/><path d="M154 263.3 L277 263.3 L209.9 336Z" fill="#5c5c5c" fill-opacity="0.9" filter="url(#b8)"/><ellipse cx="209.9" cy="272.2" rx="50.3" ry="10.1" fill="#808080" filter="url(#b5_5)"/><ellipse cx="209.9" cy="272.2" rx="30.8" ry="4.5" fill="#e0e0e0" filter="url(#b3_5)"/><path d="M-11 347.2C2.5 348 44.9 350.9 70.1 352.2C95.3 353.5 118.1 354.8 140 355C161.9 355.2 191.3 353.6 201.5 353.3" fill="none" stroke="url(#gd1)" stroke-width="18" filter="url(#b5_5)"/><path d="M419.7 348.6C405.7 349.3 360 352.1 335.8 353.3C311.5 354.6 293.8 356.1 274.3 356.1C254.7 356.1 227.6 353.8 218.3 353.3" fill="none" stroke="url(#gd2)" stroke-width="18" filter="url(#b5_5)"/><ellipse cx="140" cy="355" rx="19.6" ry="4.2" fill="#ffffff" filter="url(#b4)"/><ellipse cx="275.6" cy="356.4" rx="21" ry="4.5" fill="#ffffff" filter="url(#b4)"/><path d="M165.2 301C168 304.5 176.8 315.9 182 322C187.1 328 191.5 332.2 196 337.4C200.4 342.5 206.4 350.2 208.5 352.8" fill="none" stroke="#808080" stroke-width="20" filter="url(#b4)"/><path d="M165.2 301C168 304.5 176.8 315.9 182 322C187.1 328 191.5 332.2 196 337.4C200.4 342.5 206.4 350.2 208.5 352.8" fill="none" stroke="url(#gd3)" stroke-width="11" filter="url(#b2_8)"/><path d="M254.7 301.9C251.9 305 243 314.7 237.9 320.6C232.8 326.5 228.6 332 223.9 337.4C219.3 342.7 212.3 350.2 209.9 352.8" fill="none" stroke="#808080" stroke-width="20" filter="url(#b4)"/><path d="M254.7 301.9C251.9 305 243 314.7 237.9 320.6C232.8 326.5 228.6 332 223.9 337.4C219.3 342.7 212.3 350.2 209.9 352.8" fill="none" stroke="url(#gd4)" stroke-width="11" filter="url(#b2_8)"/><path d="M95.3 464.6 L123.5 435.8 L145.9 415.4 L168.3 395.3 L196 373.7 L223.9 373.7 L246.3 403.1 L268.7 425.5 L291 447.8 L307.8 464.6 L288.2 464.6 L265.9 441.1 L243.5 428.3 L223.9 423.2 L211.3 422.1 L190.6 424.6 L173.9 431.3 L157.1 441.4 L128.8 464.6Z" fill="#454545" filter="url(#b2)"/><path d="M128.8 461.8C133.5 458.4 149.6 446.5 157.1 441.4C164.6 436.3 168.3 434.1 173.9 431.3C179.5 428.5 184.4 426.2 190.6 424.6C196.9 423.1 205.8 422.3 211.3 422.1C216.9 421.9 218.6 422.2 223.9 423.2C229.3 424.2 236.5 425.3 243.5 428.3C250.5 431.2 258.4 435.5 265.9 441.1C273.3 446.7 284.5 458.4 288.2 461.8" fill="none" stroke="#6b6b6b" stroke-width="3" stroke-opacity="0.9" filter="url(#b1_5)"/><path d="M196.2 372.9C194.4 374.2 189.7 377 185 380.7C180.4 384.4 174.8 389.5 168.3 395.3C161.7 401 153.4 408.6 145.9 415.4C138.4 422.1 132 428.1 123.5 435.8C115.1 443.5 100 457.5 95.3 461.8" fill="none" stroke="#7a7a7a" stroke-width="14" filter="url(#b3_2)"/><path d="M196.2 372.9C194.4 374.2 189.7 377 185 380.7C180.4 384.4 174.8 389.5 168.3 395.3C161.7 401 153.4 408.6 145.9 415.4C138.4 422.1 132 428.1 123.5 435.8C115.1 443.5 100 457.5 95.3 461.8" fill="none" stroke="url(#gd5)" stroke-width="7.5" filter="url(#b2_2)"/><path d="M221.1 372.9C223.4 375.4 230 382.2 235.1 387.7C240.2 393.2 246.3 399.6 251.9 405.9C257.5 412.2 262.1 418.5 268.7 425.5C275.2 432.4 285 441.8 291 447.8C297.1 453.9 302.7 459.5 305 461.8" fill="none" stroke="#7a7a7a" stroke-width="14" filter="url(#b3_2)"/><path d="M221.1 372.9C223.4 375.4 230 382.2 235.1 387.7C240.2 393.2 246.3 399.6 251.9 405.9C257.5 412.2 262.1 418.5 268.7 425.5C275.2 432.4 285 441.8 291 447.8C297.1 453.9 302.7 459.5 305 461.8" fill="none" stroke="url(#gd6)" stroke-width="7.5" filter="url(#b2_2)"/><ellipse cx="207.7" cy="363.9" rx="12.6" ry="21" fill="#f2f2f2" filter="url(#b4_5)"/></g><path d="M0.2 246.5C9.5 248.6 37.5 254.2 56.1 259.1C74.8 264 97.1 271 112.1 275.8C127 280.7 136.3 284.2 145.6 288.4C154.9 292.6 161.5 296.4 168 301C174.5 305.7 180.1 311.5 184.8 316.4C189.4 321.3 192.5 325 196 330.4C199.4 335.7 204.1 345.5 205.7 348.6" stroke="#fff" stroke-width="3.8" stroke-dasharray="3.9 3.9" fill="none"/><path d="M211.3 348.6C213 345.5 217.6 335.7 221.1 330.4C224.6 325 227.6 321.3 232.3 316.4C237 311.5 241.2 306.6 249.1 301C257 295.4 267.7 288.2 279.8 282.8C292 277.5 307.8 273.1 321.8 268.9C335.8 264.7 349.3 261.4 363.7 257.7C378.1 253.9 400.8 248.4 408.2 246.5" stroke="#fff" stroke-width="3.8" stroke-dasharray="3.9 3.9" fill="none"/><text class="s" transform="translate(124.2 334.6) scale(1.06 1)" font-size="29.7" fill="#fff" stroke="#2a50e0" stroke-opacity="0.5" stroke-width="0.5" paint-order="stroke">MD</text><path d="M0.5 297.4H408.6" stroke="#fff" stroke-width="2" stroke-dasharray="6.8 3.4" fill="none"/></svg>
<rect x="1461.8" y="55.6" width="408.6" height="457.4" fill="none" stroke="#0a0a14" stroke-width="1.2"/>
<text class="d" transform="translate(1451.2 499) scale(0.93 1)" font-size="18.6" text-anchor="end">1.8</text>
<text class="d" transform="translate(1451.2 407.6) scale(0.93 1)" font-size="18.6" text-anchor="end">2.0</text>
<text class="d" transform="translate(1451.2 316.2) scale(0.93 1)" font-size="18.6" text-anchor="end">2.2</text>
<text class="d" transform="translate(1451.2 224.8) scale(0.93 1)" font-size="18.6" text-anchor="end">2.4</text>
<text class="d" transform="translate(1451.2 133.4) scale(0.93 1)" font-size="18.6" text-anchor="end">2.6</text>
<text class="d" transform="translate(1499.7 537.2) scale(0.95 1)" font-size="19" text-anchor="middle">−30</text>
<text class="d" transform="translate(1555.1 537.2) scale(0.95 1)" font-size="19" text-anchor="middle">−20</text>
<text class="d" transform="translate(1610.4 537.2) scale(0.95 1)" font-size="19" text-anchor="middle">−10</text>
<text class="d" transform="translate(1665.8 537.2) scale(0.95 1)" font-size="19" text-anchor="middle">0</text>
<text class="d" transform="translate(1721.2 537.2) scale(0.95 1)" font-size="19" text-anchor="middle">10</text>
<text class="d" transform="translate(1776.5 537.2) scale(0.95 1)" font-size="19" text-anchor="middle">20</text>
<text class="d" transform="translate(1831.9 537.2) scale(0.95 1)" font-size="19" text-anchor="middle">30</text>
<path d="M1461.3 492.1h-4.8M1461.3 400.7h-4.8M1461.3 309.3h-4.8M1461.3 217.9h-4.8M1461.3 126.5h-4.8M1499.7 513.5v4.8M1555.1 513.5v4.8M1610.4 513.5v4.8M1665.8 513.5v4.8M1721.2 513.5v4.8M1776.5 513.5v4.8M1831.9 513.5v4.8" stroke="#000" stroke-width="1.1" fill="none"/>
<svg x="84.1" y="600.6" width="403.9" height="457.4" viewBox="0 0 403.9 457.4" overflow="hidden"><defs><linearGradient id="ge0" gradientUnits="userSpaceOnUse" x1="0" y1="0" x2="0" y2="457.4"><stop offset="-0.0013" stop-color="#282828"/><stop offset="0.9982" stop-color="#282828"/></linearGradient></defs><g filter="url(#tp)"><rect x="-60" y="-60" width="523.9" height="577.4" fill="url(#ge0)"/><path d="M-14.1 296.7 L419.6 296.7" fill="none" stroke="#393939" stroke-width="30" stroke-opacity="0.9" filter="url(#b9)"/><path d="M-14.1 296.7 L419.6 296.7" fill="none" stroke="#585858" stroke-width="9" stroke-opacity="0.9" filter="url(#b3)"/></g><path d="M0.5 296.7H403.9" stroke="#fff" stroke-width="2" stroke-dasharray="6.8 3.4" fill="none"/></svg>
<rect x="84.1" y="600.6" width="403.9" height="457.4" fill="none" stroke="#0a0a14" stroke-width="1.2"/>
<text class="d" transform="translate(74.3 1044.3) scale(0.97 1)" font-size="18.4" text-anchor="end">1.8</text>
<text class="d" transform="translate(74.3 952.8) scale(0.97 1)" font-size="18.4" text-anchor="end">2.0</text>
<text class="d" transform="translate(74.3 861.3) scale(0.97 1)" font-size="18.4" text-anchor="end">2.2</text>
<text class="d" transform="translate(74.3 769.8) scale(0.97 1)" font-size="18.4" text-anchor="end">2.4</text>
<text class="d" transform="translate(74.3 678.3) scale(0.97 1)" font-size="18.4" text-anchor="end">2.6</text>
<text class="d" transform="translate(121.1 1081.3) scale(1.02 1)" font-size="18.4" text-anchor="middle">−30</text>
<text class="d" transform="translate(175.9 1081.3) scale(1.02 1)" font-size="18.4" text-anchor="middle">−20</text>
<text class="d" transform="translate(230.8 1081.3) scale(1.02 1)" font-size="18.4" text-anchor="middle">−10</text>
<text class="d" transform="translate(285.6 1081.3) scale(1.02 1)" font-size="18.4" text-anchor="middle">0</text>
<text class="d" transform="translate(340.4 1081.3) scale(1.02 1)" font-size="18.4" text-anchor="middle">10</text>
<text class="d" transform="translate(395.3 1081.3) scale(1.02 1)" font-size="18.4" text-anchor="middle">20</text>
<text class="d" transform="translate(450.1 1081.3) scale(1.02 1)" font-size="18.4" text-anchor="middle">30</text>
<path d="M83.6 1036.8h-4.8M83.6 945.3h-4.8M83.6 853.8h-4.8M83.6 762.3h-4.8M83.6 670.8h-4.8M121.1 1058.5v4.8M175.9 1058.5v4.8M230.8 1058.5v4.8M285.6 1058.5v4.8M340.4 1058.5v4.8M395.3 1058.5v4.8M450.1 1058.5v4.8" stroke="#000" stroke-width="1.1" fill="none"/>
<svg x="541.3" y="600.6" width="404.7" height="457.4" viewBox="0 0 404.7 457.4" overflow="hidden"><defs><linearGradient id="gf0" gradientUnits="userSpaceOnUse" x1="0" y1="0" x2="0" y2="457.4"><stop offset="-0.0013" stop-color="#292929"/><stop offset="0.9997" stop-color="#292929"/></linearGradient><linearGradient id="gf1" gradientUnits="userSpaceOnUse" x1="159.2" y1="302" x2="30.3" y2="447.8"><stop offset="0" stop-color="#515151"/><stop offset="0.5" stop-color="#434343"/><stop offset="1" stop-color="#333333"/></linearGradient><linearGradient id="gf2" gradientUnits="userSpaceOnUse" x1="251.7" y1="302" x2="366.6" y2="442.1"><stop offset="0" stop-color="#515151"/><stop offset="0.5" stop-color="#434343"/><stop offset="1" stop-color="#333333"/></linearGradient><linearGradient id="gf3" gradientUnits="userSpaceOnUse" x1="89.2" y1="391.7" x2="304.9" y2="397.3"><stop offset="0" stop-color="#333333"/><stop offset="0.25" stop-color="#585858"/><stop offset="0.5" stop-color="#555555"/><stop offset="0.75" stop-color="#5c5c5c"/><stop offset="1" stop-color="#333333"/></linearGradient><linearGradient id="gf4" gradientUnits="userSpaceOnUse" x1="-17.3" y1="296.7" x2="417" y2="296.7"><stop offset="0" stop-color="#5f5f5f"/><stop offset="0.3" stop-color="#757575"/><stop offset="0.5" stop-color="#828282"/><stop offset="0.7" stop-color="#757575"/><stop offset="1" stop-color="#636363"/></linearGradient></defs><g filter="url(#tp)"><rect x="-60" y="-60" width="524.7" height="577.4" fill="url(#gf0)"/><ellipse cx="204.1" cy="167.5" rx="168.1" ry="98.1" fill="#2f2f2f" fill-opacity="0.8" filter="url(#b30)"/><path d="M128.4 296.4 L206.9 234.8 L285.3 296.4Z" fill="#3e3e3e" fill-opacity="0.8" filter="url(#b14)"/><path d="M159.2 302C154.6 307.6 140.5 324 131.2 335.7C121.9 347.3 113.9 359.5 103.2 372.1C92.4 384.7 78.9 398.7 66.8 411.3C54.6 423.9 36.4 441.7 30.3 447.8" fill="none" stroke="url(#gf1)" stroke-width="6" filter="url(#b3)"/><path d="M251.7 302C255.9 307.6 268 324.5 276.9 335.7C285.8 346.9 295.6 357.6 304.9 369.3C314.3 381 322.7 393.6 333 405.7C343.2 417.9 361 436.1 366.6 442.1" fill="none" stroke="url(#gf2)" stroke-width="6" filter="url(#b3)"/><path d="M89.2 391.7C94.8 387.5 112.5 373.5 122.8 366.5C133.1 359.5 141.9 354.3 150.8 349.7C159.7 345 168.1 341 176 338.5C184 335.9 191 334.3 198.5 334.3C205.9 334.3 212.5 335.4 220.9 338.5C229.3 341.5 239.6 346.9 248.9 352.5C258.2 358.1 267.6 364.6 276.9 372.1C286.3 379.6 300.3 393.1 304.9 397.3" fill="none" stroke="url(#gf3)" stroke-width="3" filter="url(#b1_5)"/><path d="M-17.3 296.7 L417 296.7" fill="none" stroke="#434343" stroke-width="48" stroke-opacity="0.9" filter="url(#b12)"/><path d="M-17.3 296.7 L417 296.7" fill="none" stroke="url(#gf4)" stroke-width="13" filter="url(#b4)"/><ellipse cx="201.3" cy="297" rx="67.3" ry="4.5" fill="#8c8c8c" fill-opacity="0.9" filter="url(#b5)"/><ellipse cx="171.8" cy="297" rx="16.8" ry="3.4" fill="#ababab" filter="url(#b3_5)"/><ellipse cx="232.1" cy="297" rx="16.8" ry="3.4" fill="#ababab" filter="url(#b3_5)"/></g><path d="M5.1 122.7C13 124.3 37.8 128.3 52.7 132.5C67.7 136.7 81.7 142.5 94.8 147.9C107.9 153.3 120.5 158.7 131.2 164.7C141.9 170.8 150.8 177.3 159.2 184.3C167.6 191.4 175.1 200.2 181.6 206.8C188.2 213.3 194.3 219.1 198.5 223.6C202.7 228 205.5 231.7 206.9 233.4" stroke="#fff" stroke-width="3.8" stroke-dasharray="3.9 3.9" fill="none"/><path d="M206.9 233.4C208.7 231.5 213.4 227.1 218.1 222.2C222.7 217.3 228.3 210.3 234.9 204C241.4 197.7 248 190.9 257.3 184.3C266.6 177.8 278.3 170.6 290.9 164.7C303.5 158.9 319 153.5 333 149.3C347 145.1 363.8 141.6 375 139.5C386.2 137.4 396 137.2 400.2 136.7" stroke="#fff" stroke-width="3.8" stroke-dasharray="3.9 3.9" fill="none"/><text class="s" transform="translate(60.5 187.4) scale(1.06 1)" font-size="29.7" fill="#fff" stroke="#2a50e0" stroke-opacity="0.5" stroke-width="0.5" paint-order="stroke">MD</text><path d="M0.5 296.7H404.7" stroke="#fff" stroke-width="2" stroke-dasharray="6.8 3.4" fill="none"/></svg>
<rect x="541.3" y="600.6" width="404.7" height="457.4" fill="none" stroke="#0a0a14" stroke-width="1.2"/>
<text class="d" transform="translate(531.5 1044.3) scale(0.97 1)" font-size="18.4" text-anchor="end">1.8</text>
<text class="d" transform="translate(531.5 952.8) scale(0.97 1)" font-size="18.4" text-anchor="end">2.0</text>
<text class="d" transform="translate(531.5 861.3) scale(0.97 1)" font-size="18.4" text-anchor="end">2.2</text>
<text class="d" transform="translate(531.5 769.8) scale(0.97 1)" font-size="18.4" text-anchor="end">2.4</text>
<text class="d" transform="translate(531.5 678.3) scale(0.97 1)" font-size="18.4" text-anchor="end">2.6</text>
<text class="d" transform="translate(579.1 1081.3) scale(1.02 1)" font-size="18.4" text-anchor="middle">−30</text>
<text class="d" transform="translate(633.8 1081.3) scale(1.02 1)" font-size="18.4" text-anchor="middle">−20</text>
<text class="d" transform="translate(688.5 1081.3) scale(1.02 1)" font-size="18.4" text-anchor="middle">−10</text>
<text class="d" transform="translate(743.2 1081.3) scale(1.02 1)" font-size="18.4" text-anchor="middle">0</text>
<text class="d" transform="translate(797.9 1081.3) scale(1.02 1)" font-size="18.4" text-anchor="middle">10</text>
<text class="d" transform="translate(852.6 1081.3) scale(1.02 1)" font-size="18.4" text-anchor="middle">20</text>
<text class="d" transform="translate(907.3 1081.3) scale(1.02 1)" font-size="18.4" text-anchor="middle">30</text>
<path d="M540.8 1036.8h-4.8M540.8 945.3h-4.8M540.8 853.8h-4.8M540.8 762.3h-4.8M540.8 670.8h-4.8M579.1 1058.5v4.8M633.8 1058.5v4.8M688.5 1058.5v4.8M743.2 1058.5v4.8M797.9 1058.5v4.8M852.6 1058.5v4.8M907.3 1058.5v4.8" stroke="#000" stroke-width="1.1" fill="none"/>
<svg x="999.6" y="599.8" width="408.4" height="455.6" viewBox="0 0 408.4 455.6" overflow="hidden"><defs><linearGradient id="gg0" gradientUnits="userSpaceOnUse" x1="0" y1="0" x2="0" y2="455.6"><stop offset="-0.0018" stop-color="#2e2e2e"/><stop offset="1.0016" stop-color="#2e2e2e"/></linearGradient><linearGradient id="gg1" gradientUnits="userSpaceOnUse" x1="172.8" y1="312.5" x2="133.7" y2="385.3"><stop offset="0" stop-color="#4c4c4c"/><stop offset="1" stop-color="#333333"/></linearGradient><linearGradient id="gg2" gradientUnits="userSpaceOnUse" x1="240" y1="312.5" x2="279.2" y2="385.3"><stop offset="0" stop-color="#4c4c4c"/><stop offset="1" stop-color="#333333"/></linearGradient><linearGradient id="gg3" gradientUnits="userSpaceOnUse" x1="83.3" y1="456.3" x2="312.7" y2="441.2"><stop offset="0" stop-color="#333333"/><stop offset="0.3" stop-color="#4c4c4c"/><stop offset="0.7" stop-color="#4c4c4c"/><stop offset="1" stop-color="#333333"/></linearGradient><linearGradient id="gg4" gradientUnits="userSpaceOnUse" x1="-14.6" y1="296" x2="419" y2="296"><stop offset="0" stop-color="#bbbbbb"/><stop offset="0.15" stop-color="#afafaf"/><stop offset="0.35" stop-color="#afafaf"/><stop offset="0.5" stop-color="#c6c6c6"/><stop offset="0.65" stop-color="#afafaf"/><stop offset="0.85" stop-color="#afafaf"/><stop offset="1" stop-color="#b8b8b8"/></linearGradient></defs><g filter="url(#tp)"><rect x="-60" y="-60" width="528.4" height="575.6" fill="url(#gg0)"/><path d="M105.7 167.1C114.1 171.7 139.3 188.7 156.1 195C172.8 201.3 189.6 204.8 206.4 204.8C223.2 204.8 240 201.3 256.8 195C273.6 188.7 298.7 171.7 307.1 167.1" fill="none" stroke="#3c3c3c" stroke-width="14" stroke-opacity="0.9" filter="url(#b7)"/><ellipse cx="206.4" cy="262.2" rx="53.2" ry="30.8" fill="#4c4c4c" fill-opacity="0.8" filter="url(#b12)"/><path d="M172.8 312.5C170 318.6 162.6 336.8 156.1 348.9C149.5 361 137.4 379.2 133.7 385.3" fill="none" stroke="url(#gg1)" stroke-width="8" filter="url(#b4)"/><path d="M240 312.5C242.8 318.6 250.2 336.8 256.8 348.9C263.3 361 275.4 379.2 279.2 385.3" fill="none" stroke="url(#gg2)" stroke-width="8" filter="url(#b4)"/><path d="M83.3 456.3C90.3 449.1 113.2 424.1 125.3 413.2C137.4 402.3 146.7 395.8 156.1 390.9C165.4 386 172.8 385.4 181.2 383.9C189.6 382.4 198 381.9 206.4 381.9C214.8 381.9 223.2 381.9 231.6 383.9C240 385.8 248.8 389.2 256.8 393.7C264.7 398.1 269.8 402.5 279.2 410.4C288.5 418.4 307.1 436.1 312.7 441.2" fill="none" stroke="url(#gg3)" stroke-width="2.5" filter="url(#b1_2)"/><path d="M-14.6 296 L419 296" fill="none" stroke="#4c4c4c" stroke-width="66" stroke-opacity="0.9" filter="url(#b13)"/><path d="M-14.6 296 L419 296" fill="none" stroke="#858585" stroke-width="24" filter="url(#b5_5)"/><path d="M-14.6 296 L419 296" fill="none" stroke="url(#gg4)" stroke-width="9" filter="url(#b3)"/><ellipse cx="206.4" cy="295.7" rx="83.9" ry="14" fill="#909090" fill-opacity="0.9" filter="url(#b8)"/><ellipse cx="206.4" cy="296" rx="61.5" ry="7.3" fill="#d2d2d2" filter="url(#b5)"/><ellipse cx="206.4" cy="296.3" rx="33.6" ry="3.9" fill="#ffffff" filter="url(#b3_2)"/></g><path d="M2.2 181C8.7 182.9 27.8 188.3 41.4 192.2C54.9 196.2 70.7 201.1 83.3 204.8C95.9 208.5 107.6 211.6 116.9 214.6C126.2 217.6 132.3 219.3 139.3 223C146.3 226.7 153.3 232.3 158.9 237C164.5 241.7 168.2 245.8 172.8 251C177.5 256.1 182.6 262.6 186.8 267.8C191 272.9 194.8 278 198 281.8C201.3 285.5 205 288.7 206.4 290.1" stroke="#fff" stroke-width="3.8" stroke-dasharray="3.9 3.9" fill="none"/><path d="M206.4 290.1C207.8 288.7 212 285.2 214.8 281.8C217.6 278.3 219.5 273.8 223.2 269.2C226.9 264.5 231.6 258.7 237.2 253.8C242.8 248.9 249.8 244 256.8 239.8C263.8 235.6 270.8 232.1 279.2 228.6C287.5 225.1 295.5 222.3 307.1 218.8C318.8 215.3 332.8 211.6 349.1 207.6C365.4 203.7 395.7 197.1 405 195" stroke="#fff" stroke-width="3.8" stroke-dasharray="3.9 3.9" fill="none"/><text class="s" transform="translate(103.8 255.5) scale(1.06 1)" font-size="29.7" fill="#fff" stroke="#2a50e0" stroke-opacity="0.5" stroke-width="0.5" paint-order="stroke">MD</text><path d="M0.5 295.8H408.4" stroke="#fff" stroke-width="2" stroke-dasharray="6.8 3.4" fill="none"/></svg>
<rect x="999.6" y="599.8" width="408.4" height="455.6" fill="none" stroke="#0a0a14" stroke-width="1.2"/>
<text class="d" transform="translate(989.8 1042) scale(0.97 1)" font-size="18.4" text-anchor="end">1.8</text>
<text class="d" transform="translate(989.8 951) scale(0.97 1)" font-size="18.4" text-anchor="end">2.0</text>
<text class="d" transform="translate(989.8 860) scale(0.97 1)" font-size="18.4" text-anchor="end">2.2</text>
<text class="d" transform="translate(989.8 769) scale(0.97 1)" font-size="18.4" text-anchor="end">2.4</text>
<text class="d" transform="translate(989.8 678) scale(0.97 1)" font-size="18.4" text-anchor="end">2.6</text>
<text class="d" transform="translate(1037.8 1078.7) scale(1.02 1)" font-size="18.4" text-anchor="middle">−30</text>
<text class="d" transform="translate(1093.2 1078.7) scale(1.02 1)" font-size="18.4" text-anchor="middle">−20</text>
<text class="d" transform="translate(1148.5 1078.7) scale(1.02 1)" font-size="18.4" text-anchor="middle">−10</text>
<text class="d" transform="translate(1203.8 1078.7) scale(1.02 1)" font-size="18.4" text-anchor="middle">0</text>
<text class="d" transform="translate(1259.1 1078.7) scale(1.02 1)" font-size="18.4" text-anchor="middle">10</text>
<text class="d" transform="translate(1314.4 1078.7) scale(1.02 1)" font-size="18.4" text-anchor="middle">20</text>
<text class="d" transform="translate(1369.8 1078.7) scale(1.02 1)" font-size="18.4" text-anchor="middle">30</text>
<path d="M999.1 1034.5h-4.8M999.1 943.5h-4.8M999.1 852.5h-4.8M999.1 761.5h-4.8M999.1 670.5h-4.8M1037.8 1055.9v4.8M1093.2 1055.9v4.8M1148.5 1055.9v4.8M1203.8 1055.9v4.8M1259.1 1055.9v4.8M1314.4 1055.9v4.8M1369.8 1055.9v4.8" stroke="#000" stroke-width="1.1" fill="none"/>
<svg x="1455.8" y="603.5" width="409.5" height="458" viewBox="0 0 409.5 458" overflow="hidden"><defs><linearGradient id="gh0" gradientUnits="userSpaceOnUse" x1="0" y1="0" x2="0" y2="458"><stop offset="-0.0011" stop-color="#2c2c2c"/><stop offset="1.0012" stop-color="#2c2c2c"/></linearGradient><linearGradient id="gh1" gradientUnits="userSpaceOnUse" x1="159.3" y1="280.4" x2="91.9" y2="182.1"><stop offset="0" stop-color="#515151"/><stop offset="1" stop-color="#333333"/></linearGradient><linearGradient id="gh2" gradientUnits="userSpaceOnUse" x1="257.7" y1="280.4" x2="325.1" y2="187.7"><stop offset="0" stop-color="#515151"/><stop offset="1" stop-color="#333333"/></linearGradient><linearGradient id="gh3" gradientUnits="userSpaceOnUse" x1="167.8" y1="317" x2="285.7" y2="385.8"><stop offset="0" stop-color="#727272"/><stop offset="0.4" stop-color="#6c6c6c"/><stop offset="1" stop-color="#3e3e3e"/></linearGradient><linearGradient id="gh4" gradientUnits="userSpaceOnUse" x1="246.4" y1="317" x2="111.6" y2="383"><stop offset="0" stop-color="#727272"/><stop offset="0.4" stop-color="#6c6c6c"/><stop offset="1" stop-color="#3e3e3e"/></linearGradient><linearGradient id="gh5" gradientUnits="userSpaceOnUse" x1="-14.8" y1="297.6" x2="420.6" y2="297.6"><stop offset="0" stop-color="#b8b8b8"/><stop offset="0.15" stop-color="#ababab"/><stop offset="0.35" stop-color="#afafaf"/><stop offset="0.5" stop-color="#c6c6c6"/><stop offset="0.65" stop-color="#afafaf"/><stop offset="0.85" stop-color="#ababab"/><stop offset="1" stop-color="#b1b1b1"/></linearGradient></defs><g filter="url(#tp)"><rect x="-60" y="-60" width="529.5" height="578" fill="url(#gh0)"/><path d="M159.3 280.4C155.1 274.8 142 258 134 246.7C126.1 235.5 118.6 223.8 111.6 213C104.5 202.2 95.2 187.3 91.9 182.1" fill="none" stroke="url(#gh1)" stroke-width="10" filter="url(#b5)"/><path d="M257.7 280.4C261.4 275.7 272.6 262.6 280.1 252.3C287.6 242 295.1 229.4 302.6 218.6C310.1 207.9 321.3 192.9 325.1 187.7" fill="none" stroke="url(#gh2)" stroke-width="10" filter="url(#b5)"/><ellipse cx="207.1" cy="269.2" rx="59" ry="25.3" fill="#4c4c4c" fill-opacity="0.8" filter="url(#b11)"/><ellipse cx="16.1" cy="213" rx="14" ry="11.2" fill="#3e3e3e" fill-opacity="0.8" filter="url(#b8)"/><ellipse cx="204.3" cy="350.7" rx="182.6" ry="26.7" fill="#4a4a4a" fill-opacity="0.9" filter="url(#b13)"/><path d="M167.8 317C174.1 323.3 194 345.5 205.7 354.9C217.4 364.2 224.6 368 238 373.1C251.3 378.3 277.8 383.7 285.7 385.8" fill="none" stroke="url(#gh3)" stroke-width="9" filter="url(#b4)"/><path d="M246.4 317C239.6 323.3 218.8 346.2 205.7 354.9C192.6 363.5 183.4 364.2 167.8 368.9C152.1 373.6 120.9 380.6 111.6 383" fill="none" stroke="url(#gh4)" stroke-width="9" filter="url(#b4)"/><path d="M145.3 446.2C150 443.4 163.1 433.3 173.4 429.3C183.7 425.3 195.9 422.3 207.1 422.3C218.3 422.3 230.5 425.3 240.8 429.3C251.1 433.3 264.2 443.4 268.9 446.2" fill="none" stroke="#3e3e3e" stroke-width="2.5" filter="url(#b1_5)"/><path d="M-14.8 297.6 L420.6 297.6" fill="none" stroke="#4c4c4c" stroke-width="62" stroke-opacity="0.9" filter="url(#b12)"/><path d="M-14.8 297.6 L420.6 297.6" fill="none" stroke="#828282" stroke-width="22" filter="url(#b5_5)"/><path d="M-14.8 297.6 L420.6 297.6" fill="none" stroke="url(#gh5)" stroke-width="8.5" filter="url(#b2_9)"/><path d="M131.2 294.5 L282.9 294.5 L207.1 340.8Z" fill="#9d9d9d" fill-opacity="0.95" filter="url(#b5_5)"/><ellipse cx="205.7" cy="297.3" rx="75.9" ry="6.7" fill="#cfcfcf" filter="url(#b5)"/><ellipse cx="167.2" cy="298.4" rx="26.7" ry="7.9" fill="#e1e1e1" filter="url(#b4_5)"/><ellipse cx="245.9" cy="298.4" rx="26.7" ry="7.9" fill="#e1e1e1" filter="url(#b4_5)"/><path d="M149.5 292.2 L184.6 292.2 L171.1 309.1Z" fill="#fbfbfb" filter="url(#b3_6)"/><path d="M227.3 292.2 L263.8 292.2 L244.2 309.1Z" fill="#fbfbfb" filter="url(#b3_6)"/></g><path d="M7.6 221.4C15.6 222.8 40.4 227.1 55.4 229.9C70.4 232.7 86.3 235.9 97.5 238.3C108.8 240.6 116.3 242 122.8 243.9C129.4 245.8 133.1 247.2 136.9 249.5C140.6 251.9 142.9 254.7 145.3 258C147.6 261.2 149.3 265 150.9 269.2C152.5 273.4 153.5 279.3 155.1 283.2C156.8 287.2 158.2 289.8 160.7 293.1C163.3 296.3 166.6 299.4 170.6 302.9C174.5 306.4 180.4 310.9 184.6 314.1C188.8 317.4 192.1 320.2 195.9 322.6C199.6 324.9 205.2 327.3 207.1 328.2" stroke="#fff" stroke-width="3.8" stroke-dasharray="3.9 3.9" fill="none"/><path d="M207.1 328.2C209 327 214.1 324.4 218.3 321.2C222.5 317.9 227.7 312.5 232.4 308.5C237.1 304.5 242.2 301.5 246.4 297.3C250.6 293.1 254.4 287.9 257.7 283.2C260.9 278.6 262.8 273.4 266.1 269.2C269.4 265 273.1 261.2 277.3 258C281.5 254.7 285.3 252.3 291.4 249.5C297.5 246.7 304 243.7 313.8 241.1C323.7 238.5 334.3 236.2 350.4 234.1C366.4 232 400.2 229.4 410.2 228.5" stroke="#fff" stroke-width="3.8" stroke-dasharray="3.9 3.9" fill="none"/><text class="s" transform="translate(126.5 343.9) scale(1.06 1)" font-size="29.7" fill="#fff" stroke="#2a50e0" stroke-opacity="0.5" stroke-width="0.5" paint-order="stroke">MD</text><path d="M0.5 298.1H409.5" stroke="#fff" stroke-width="2" stroke-dasharray="6.8 3.4" fill="none"/></svg>
<rect x="1455.8" y="603.5" width="409.5" height="458" fill="none" stroke="#0a0a14" stroke-width="1.2"/>
<text class="d" transform="translate(1446 1047.4) scale(0.97 1)" font-size="18.4" text-anchor="end">1.8</text>
<text class="d" transform="translate(1446 955.9) scale(0.97 1)" font-size="18.4" text-anchor="end">2.0</text>
<text class="d" transform="translate(1446 864.4) scale(0.97 1)" font-size="18.4" text-anchor="end">2.2</text>
<text class="d" transform="translate(1446 772.9) scale(0.97 1)" font-size="18.4" text-anchor="end">2.4</text>
<text class="d" transform="translate(1446 681.4) scale(0.97 1)" font-size="18.4" text-anchor="end">2.6</text>
<text class="d" transform="translate(1494.3 1084.8) scale(1.02 1)" font-size="18.4" text-anchor="middle">−30</text>
<text class="d" transform="translate(1549.7 1084.8) scale(1.02 1)" font-size="18.4" text-anchor="middle">−20</text>
<text class="d" transform="translate(1605 1084.8) scale(1.02 1)" font-size="18.4" text-anchor="middle">−10</text>
<text class="d" transform="translate(1660.3 1084.8) scale(1.02 1)" font-size="18.4" text-anchor="middle">0</text>
<text class="d" transform="translate(1715.6 1084.8) scale(1.02 1)" font-size="18.4" text-anchor="middle">10</text>
<text class="d" transform="translate(1770.9 1084.8) scale(1.02 1)" font-size="18.4" text-anchor="middle">20</text>
<text class="d" transform="translate(1826.3 1084.8) scale(1.02 1)" font-size="18.4" text-anchor="middle">30</text>
<path d="M1455.3 1039.9h-4.8M1455.3 948.4h-4.8M1455.3 856.9h-4.8M1455.3 765.4h-4.8M1455.3 673.9h-4.8M1494.3 1062v4.8M1549.7 1062v4.8M1605 1062v4.8M1660.3 1062v4.8M1715.6 1062v4.8M1770.9 1062v4.8M1826.3 1062v4.8" stroke="#000" stroke-width="1.1" fill="none"/>
<text class="d" transform="translate(22.9 283.5) rotate(-90) scale(1.01 1)" font-size="23.3" text-anchor="middle">Energy (eV)</text>
<text class="d" transform="translate(23.2 829.5) rotate(-90) scale(1.01 1)" font-size="23.3" text-anchor="middle">Energy (eV)</text>
<text class="d" x="285.3" y="1119.5" font-size="23" text-anchor="middle">Angle (°)</text>
<text class="d" x="743" y="1119.5" font-size="23" text-anchor="middle">Angle (°)</text>
<text class="d" x="1203" y="1117.7" font-size="23" text-anchor="middle">Angle (°)</text>
<text class="d" x="1659.6" y="1124.5" font-size="23" text-anchor="middle">Angle (°)</text>
<text class="s" x="3.7" y="33.2" font-size="41.7" font-weight="bold">(a)</text>
<text class="s" x="495.8" y="33.2" font-size="41.7" font-weight="bold">(b)</text>
<text class="s" x="955.4" y="33.2" font-size="41.7" font-weight="bold">(c)</text>
<text class="s" x="1415.3" y="33.2" font-size="41.7" font-weight="bold">(d)</text>
<text class="s" x="3.7" y="583.2" font-size="41.7" font-weight="bold">(e)</text>
<text class="s" x="495.8" y="583.2" font-size="41.7" font-weight="bold">(f)</text>
<text class="s" x="955.4" y="583.2" font-size="41.7" font-weight="bold">(g)</text>
<text class="s" x="1415.3" y="583.2" font-size="41.7" font-weight="bold">(h)</text>
<text class="s" x="3.7" y="1199.7" font-size="41.7" font-weight="bold">(i)</text>
<text class="s" x="495.8" y="1199.7" font-size="41.7" font-weight="bold">(j)</text>
<text class="s" x="955.4" y="1199.7" font-size="41.7" font-weight="bold">(k)</text>
<text class="s" x="1415.3" y="1199.7" font-size="41.7" font-weight="bold">(l)</text>
<text class="s" transform="translate(294.1 32.2) scale(1.04 1)" font-size="34.6" text-anchor="middle">Film</text>
<text transform="translate(759.3 32.4) scale(1.045 1)" text-anchor="middle" font-size="34.6"><tspan class="r" font-size="36.5">R</tspan><tspan class="r" font-size="27.5" dy="7.8">MM</tspan><tspan class="s" dy="-7.8" letter-spacing="0.4"> = 120 nm</tspan></text>
<text transform="translate(1214.3 32.4) scale(1.045 1)" text-anchor="middle" font-size="34.6"><tspan class="r" font-size="36.5">R</tspan><tspan class="r" font-size="27.5" dy="7.8">MM</tspan><tspan class="s" dy="-7.8" letter-spacing="0.4"> = 130 nm</tspan></text>
<text transform="translate(1674 32.4) scale(1.045 1)" text-anchor="middle" font-size="34.6"><tspan class="r" font-size="36.5">R</tspan><tspan class="r" font-size="27.5" dy="7.8">MM</tspan><tspan class="s" dy="-7.8" letter-spacing="0.4"> = 140 nm</tspan></text>
<rect x="1930.6" y="89.4" width="18" height="369.9" fill="url(#cb)" stroke="#111" stroke-width="1.1"/>
<path d="M1948.6 90h3.6M1948.6 458.7h3.6" stroke="#000" stroke-width="1" fill="none"/>
<text class="s" transform="translate(1917.2 75.8) scale(1.0001 1)" font-size="30.2">Max</text>
<text class="s" transform="translate(1913.6 487.6) scale(1.07 1)" font-size="30.2">Min</text>
<text class="s" transform="translate(1962.1 279.7) rotate(90) scale(0.94 1)" font-size="37.6" text-anchor="middle">Reflectance</text>
<rect x="1929.8" y="639.6" width="18.4" height="369.2" fill="url(#cb)" stroke="#111" stroke-width="1.1"/>
<path d="M1948.2 640.2h3.6M1948.2 1008.2h3.6" stroke="#000" stroke-width="1" fill="none"/>
<text class="s" transform="translate(1915.6 625.8) scale(1.0001 1)" font-size="30.2">Max</text>
<text class="s" transform="translate(1912.2 1037.6) scale(1.07 1)" font-size="30.2">Min</text>
<text class="s" transform="translate(1962.1 834.6) rotate(90) scale(0.967 1)" font-size="37.6" text-anchor="middle">Photoluminescence</text>
<rect x="1932.6" y="1227.6" width="18.3" height="368.9" fill="url(#cb)" stroke="#111" stroke-width="1.1"/>
<path d="M1950.9 1228.2h3.6M1950.9 1595.9h3.6" stroke="#000" stroke-width="1" fill="none"/>
<text class="s" transform="translate(1916.5 1212.6) scale(1.0001 1)" font-size="30.2">Max</text>
<text class="s" transform="translate(1924.7 1628.9) scale(1.07 1)" font-size="30.2">Min</text>
<text class="s" transform="translate(1964.4 1417.6) rotate(90)" font-size="37.6" text-anchor="middle">Directivity</text>
<clipPath id="cpi"><path d="M291.3 1591.9L108.9 1276A364.8 364.8 0 0 1 473.7 1276Z"/></clipPath><path d="M291.3 1591.9L108.9 1276A364.8 364.8 0 0 1 473.7 1276Z" fill="#38286f"/><path d="M291.3 1591.9L166.5 1249.1M291.3 1591.9L228 1232.6M291.3 1591.9L291.3 1227.1M291.3 1591.9L354.6 1232.6M291.3 1591.9L416.1 1249.1M268.5 1552.4A45.6 45.6 0 0 1 314.1 1552.4M245.7 1512.9A91.2 91.2 0 0 1 336.9 1512.9M222.9 1473.4A136.8 136.8 0 0 1 359.7 1473.4M200.1 1433.9A182.4 182.4 0 0 1 382.5 1433.9M177.3 1394.4A228 228 0 0 1 405.3 1394.4M154.5 1355A273.6 273.6 0 0 1 428.1 1355M131.7 1315.5A319.2 319.2 0 0 1 450.9 1315.5" fill="none" stroke="#fff" stroke-opacity="0.45" stroke-width="0.85"/><g clip-path="url(#cpi)" fill="none" stroke-width="3.3" stroke-linecap="square" stroke-linejoin="miter"><path d="M310.1 1439.9L309.5 1455.4M309.5 1455.4L311.1 1439.8M320.1 1441.4L320.3 1457.2M320.3 1457.2L323.3 1443.1" stroke="#32f298"/><path d="M216.9 1459L209.5 1445.1M245.5 1430.2L249.4 1445.8M249.4 1445.8L248.4 1429.6M252 1428L254.8 1443.4M254.8 1443.4L254.2 1427.6M257.3 1427.6L259 1443.4M259 1443.4L259.1 1427.4M276.1 1424.6L278.2 1440.4M278.2 1440.4L278.5 1425.1M293.4 1423.8L295 1439.8M295 1439.8L295.8 1423.8M310.7 1424.4L310.1 1439.9M311.1 1439.8L312.8 1424.2M314.9 1425.8L314.3 1442.2M314.3 1442.2L316.1 1426.2M320 1425.7L320.1 1441.4M323.3 1443.1L326.3 1429M326 1427.8L329.9 1444.6M329.9 1444.6L331.7 1428.4M354.6 1436.2L352.8 1452.4M352.8 1452.4L354.8 1436.2" stroke="#5dfc6f"/><path d="M209.5 1445.1L202.2 1431.1M203.5 1429.2L211.5 1442.2M211.5 1442.2L206.4 1427.7M207.3 1427.8L218.1 1442.2M218.1 1442.2L216.3 1424.8M219.6 1423L224.7 1438.6M224.7 1438.6L222.3 1422.1M227.4 1419.7L234.9 1433.8M234.9 1433.8L232.5 1418.2M232.5 1418.2L242.1 1431.4M242.1 1431.4L240 1415.1M241.7 1414.5L245.5 1430.2M248.4 1429.6L247.4 1413.3M249.2 1412.5L252 1428M254.2 1427.6L253.6 1411.8M255.7 1411.8L257.3 1427.6M259.1 1427.4L259.2 1411.4M265.9 1408.5L266.2 1424.2M266.2 1424.2L267.4 1408.5M274 1408.8L276.1 1424.6M278.5 1425.1L278.8 1409.7M291.8 1407.7L293.4 1423.8M295.8 1423.8L296.6 1407.7M299.9 1407.9L302.3 1424.2M302.3 1424.2L304.7 1407.9M311.3 1408.9L310.7 1424.4M312.8 1424.2L314.4 1408.5M315.5 1409.3L314.9 1425.8M316.1 1426.2L317.9 1410.1M319.8 1409.9L320 1425.7M326.3 1429L322.1 1410.9M322.1 1410.9L326 1427.8M331.7 1428.4L333.5 1412.1M333.5 1412.1L332.3 1429M332.3 1429L337.7 1413.9M344.9 1416.3L343.1 1432.6M343.1 1432.6L346.7 1416.3M356.4 1420L354.6 1436.2M354.8 1436.2L356.8 1420M366.6 1425.4L364.8 1442.2M364.8 1442.2L371.2 1427.2M376 1429.2L372 1445.2M372 1445.2L377.1 1429.6" stroke="#8fff49"/><path d="M213.9 1423L207.3 1427.8M309.5 1410.9L311 1394.4M382.2 1413.9L376.8 1436.2M376.8 1436.2L388.8 1417" stroke="#a4fc3c"/><path d="M202.2 1431.1L194.8 1417.1M195.4 1416.1L203.5 1429.2M206.4 1427.7L201.4 1413.1M207 1409.6L213.9 1423M216.3 1424.8L214.5 1407.3M214.5 1407.3L219.6 1423M222.3 1422.1L219.9 1405.5M219.9 1405.5L227.4 1419.7M240 1415.1L237.9 1398.9M237.9 1398.9L241.7 1414.5M247.4 1413.3L246.3 1397.1M246.3 1397.1L249.2 1412.5M253.6 1411.8L253 1396.1M254 1396.1L255.7 1411.8M259.2 1411.4L259.3 1395.4M265.6 1392.9L265.9 1408.5M267.4 1408.5L268.6 1392.9M271.9 1393.1L274 1408.8M278.8 1409.7L280.6 1392.9M280.6 1392.9L284.2 1407.3M284.2 1407.3L285.4 1391.7M285.4 1391.7L289 1407.3M289 1407.3L290.2 1391.7M290.2 1391.7L291.8 1407.7M296.6 1407.7L297.4 1391.7M297.4 1391.7L299.9 1407.9M304.7 1407.9L307.1 1391.7M307.1 1391.7L309.5 1410.9M311.9 1393.4L311.3 1408.9M314.4 1408.5L316.1 1392.9M316.1 1392.9L315.5 1409.3M317.9 1410.1L319.7 1394.1M319.7 1394.1L319.8 1409.9M337.7 1413.9L343.1 1398.9M346.7 1400.1L344.9 1416.3M346.7 1416.3L350.4 1400.1M350.4 1400.1L352.8 1419.4M352.8 1419.4L356.4 1403.4M358.2 1403.7L356.4 1420M356.8 1420L358.8 1403.7M358.8 1403.7L368.4 1408.5M368.4 1408.5L366.6 1425.4M371.2 1427.2L377.6 1412.1M380 1413.1L376 1429.2M377.1 1429.6L382.2 1413.9" stroke="#b4f836"/><path d="M194.8 1417.1L187.4 1403.1M187.4 1403.1L195.4 1416.1M201.4 1413.1L196.3 1398.6M253 1396.1L252.4 1380.3M252.4 1380.3L254 1396.1M259.3 1395.4L259.5 1379.4M262.6 1378.2L265.6 1392.9M268.6 1392.9L269.8 1377.3M269.8 1377.3L271.9 1393.1M311 1394.4L312.5 1377.9M312.5 1377.9L311.9 1393.4M343.1 1398.9L348.5 1383.9M348.5 1383.9L346.7 1400.1M356.4 1403.4L360 1387.5M360 1387.5L358.2 1403.7M377.6 1412.1L384 1397.1M384 1397.1L380 1413.1" stroke="#c3f134"/><path d="M200.1 1396.2L207 1409.6" stroke="#d4e735"/><path d="M196.3 1398.6L191.3 1384M193.1 1382.8L200.1 1396.2M259.5 1379.4L259.6 1363.4M259.6 1363.4L262.6 1378.2" stroke="#e1dd37"/><path d="M191.3 1384L186.2 1369.5M186.2 1369.5L193.1 1382.8" stroke="#f6c33a"/></g><path d="M291.3 1591.9L108.9 1276A364.8 364.8 0 0 1 473.7 1276Z" fill="none" stroke="#000" stroke-width="1.4" stroke-linejoin="miter"/><text class="d" x="96.8" y="1262.8" font-size="22" text-anchor="middle">-30°</text><text class="d" x="158.3" y="1234.2" font-size="22" text-anchor="middle">-20°</text><text class="d" x="223.8" y="1216.6" font-size="22" text-anchor="middle">-10°</text><text class="d" x="291.3" y="1210.7" font-size="22" text-anchor="middle">0°</text><text class="d" x="358.8" y="1216.6" font-size="22" text-anchor="middle">10°</text><text class="d" x="424.3" y="1234.2" font-size="22" text-anchor="middle">20°</text><text class="d" x="485.8" y="1262.8" font-size="22" text-anchor="middle">30°</text><path d="M108.7 1275.5L105.8 1270.5M166.4 1248.6L164.4 1243.2M227.9 1232.1L226.9 1226.4M291.3 1226.6L291.3 1220.8M354.7 1232.1L355.7 1226.4M416.2 1248.6L418.2 1243.2M473.9 1275.5L476.9 1270.5" fill="none" stroke="#000" stroke-width="1.1"/><text class="d" x="257.8" y="1614.6" font-size="22" text-anchor="middle">0.00</text><text class="d" x="235" y="1575.1" font-size="22" text-anchor="middle">0.25</text><text class="d" x="212.2" y="1535.6" font-size="22" text-anchor="middle">0.50</text><text class="d" x="189.4" y="1496.1" font-size="22" text-anchor="middle">0.75</text><text class="d" x="166.6" y="1456.6" font-size="22" text-anchor="middle">1.00</text><text class="d" x="143.8" y="1417.1" font-size="22" text-anchor="middle">1.25</text><text class="d" x="121" y="1377.7" font-size="22" text-anchor="middle">1.50</text><text class="d" x="98.2" y="1338.2" font-size="22" text-anchor="middle">1.75</text><text class="d" x="75.4" y="1298.7" font-size="22" text-anchor="middle">2.00</text><clipPath id="cpj"><path d="M750 1591.9L567.6 1276A364.8 364.8 0 0 1 932.4 1276Z"/></clipPath><path d="M750 1591.9L567.6 1276A364.8 364.8 0 0 1 932.4 1276Z" fill="#38286f"/><path d="M750 1591.9L625.2 1249.1M750 1591.9L686.7 1232.6M750 1591.9L750 1227.1M750 1591.9L813.3 1232.6M750 1591.9L874.8 1249.1M727.2 1552.4A45.6 45.6 0 0 1 772.8 1552.4M704.4 1512.9A91.2 91.2 0 0 1 795.6 1512.9M681.6 1473.4A136.8 136.8 0 0 1 818.4 1473.4M658.8 1433.9A182.4 182.4 0 0 1 841.2 1433.9M636 1394.4A228 228 0 0 1 864 1394.4M613.2 1355A273.6 273.6 0 0 1 886.8 1355M590.4 1315.5A319.2 319.2 0 0 1 909.6 1315.5" fill="none" stroke="#fff" stroke-opacity="0.45" stroke-width="0.85"/><g clip-path="url(#cpj)" fill="none" stroke-width="3.3" stroke-linecap="square" stroke-linejoin="miter"><path d="M803.7 1477.9L801.2 1496.1M801.2 1496.1L806.2 1477.9" stroke="#19d5cd"/><path d="M791.3 1481.2L797.1 1473M797.1 1473L799.6 1487.9M799.6 1487.9L803.7 1477.9M806.2 1477.9L804.5 1494.5M804.5 1494.5L810.3 1476.3" stroke="#19e2bb"/><path d="M690.5 1487.9L683.9 1470.5M699.6 1461.4L706.2 1477.9M706.2 1477.9L707.9 1461.4M795.5 1458.1L791.3 1481.2" stroke="#20eaac"/><path d="M683.9 1470.5L688.8 1468M688.8 1468L681.4 1459.8M693.8 1460.6L699.6 1461.4M793.8 1453.1L788 1459.8M788 1459.8L795.5 1458.1" stroke="#32f298"/><path d="M681.4 1459.8L687.2 1458.1M687.2 1458.1L679.8 1449M687.2 1448.2L693.8 1460.6M707.9 1461.4L705.4 1442.4M788 1443.2L783.9 1443.2" stroke="#46f884"/><path d="M679.8 1449L685.5 1449.8M685.5 1449.8L680.6 1435.8M789.7 1425L788 1443.2M783.9 1443.2L790.5 1426.7M790.5 1426.7L792.1 1441.6M792.1 1441.6L798.8 1435M798.8 1435L793.8 1453.1" stroke="#5dfc6f"/><path d="M680.6 1435.8L687.2 1448.2M705.4 1442.4L702.9 1423.4M702.9 1423.4L707 1430.8M707 1430.8L707.9 1422.6M707.9 1422.6L712 1434.1M712 1434.1L709.9 1416.8M786.4 1428.3L789.7 1425" stroke="#79fe59"/><path d="M787.2 1413.5L786.4 1428.3" stroke="#8fff49"/><path d="M709.9 1416.8L707.9 1399.4M788 1398.6L787.2 1413.5" stroke="#a4fc3c"/><path d="M707.9 1399.4L712 1411M712 1411L711.2 1395.3M782.2 1393.6L785.5 1401.9M785.5 1401.9L788 1398.6" stroke="#b4f836"/><path d="M711.2 1395.3L710.3 1379.6" stroke="#c3f134"/><path d="M710.3 1379.6L714.5 1387.9M783.5 1373L782.2 1393.6" stroke="#d4e735"/><path d="M714.5 1387.9L713.6 1367.2" stroke="#e1dd37"/><path d="M784.7 1352.3L783.5 1373" stroke="#eecf3a"/><path d="M713.6 1367.2L712.8 1346.5" stroke="#f6c33a"/><path d="M712.8 1346.5L716.1 1349.8M784.7 1334.1L784.7 1352.3" stroke="#fbb637"/><path d="M716.1 1349.8L715.8 1331.4" stroke="#fea431"/><path d="M742.1 1316.8L747.5 1332.5M747.5 1332.5L750.8 1325M750.8 1325L754.1 1324.2M784.7 1316L784.7 1334.1" stroke="#fe932a"/><path d="M715.8 1331.4L715.6 1312.9M754.1 1324.2L755.8 1313.5M755.8 1313.5L758.3 1325M758.3 1325L762.4 1302.7M762.4 1302.7L764 1329.2M764 1329.2L766 1313.2" stroke="#fb7e21"/><path d="M736.8 1301.1L742.1 1316.8M766 1313.2L767.9 1297.2M784.7 1297.8L784.7 1316" stroke="#f66c19"/><path d="M715.6 1312.9L715.3 1294.5" stroke="#f05b12"/><path d="M734.7 1282.9L736.8 1301.1M767.9 1297.2L769.8 1281.2M784.3 1282.3L784.7 1297.8" stroke="#e7490c"/><path d="M715.3 1294.5L714.5 1270.5" stroke="#dd3d08"/><path d="M725.2 1271.3L730.2 1280.4M730.2 1280.4L732.6 1264.7M732.6 1264.7L734.7 1282.9M769.8 1281.2L774 1266.4M783.9 1266.9L784.3 1282.3" stroke="#d02f05"/><path d="M774 1266.4L779.8 1254.8" stroke="#c32503"/><path d="M714.5 1270.5L720.2 1247.4M720.2 1247.4L725.2 1271.3M779.8 1254.8L783.6 1251.5M783.6 1251.5L783.9 1266.9" stroke="#b41b01"/></g><path d="M750 1591.9L567.6 1276A364.8 364.8 0 0 1 932.4 1276Z" fill="none" stroke="#000" stroke-width="1.4" stroke-linejoin="miter"/><text class="d" x="555.5" y="1262.8" font-size="22" text-anchor="middle">-30°</text><text class="d" x="617" y="1234.2" font-size="22" text-anchor="middle">-20°</text><text class="d" x="682.5" y="1216.6" font-size="22" text-anchor="middle">-10°</text><text class="d" x="750" y="1210.7" font-size="22" text-anchor="middle">0°</text><text class="d" x="817.5" y="1216.6" font-size="22" text-anchor="middle">10°</text><text class="d" x="883" y="1234.2" font-size="22" text-anchor="middle">20°</text><text class="d" x="944.5" y="1262.8" font-size="22" text-anchor="middle">30°</text><path d="M567.4 1275.5L564.5 1270.5M625.1 1248.6L623.1 1243.2M686.6 1232.1L685.6 1226.4M750 1226.6L750 1220.8M813.4 1232.1L814.4 1226.4M874.9 1248.6L876.9 1243.2M932.6 1275.5L935.5 1270.5" fill="none" stroke="#000" stroke-width="1.1"/><text class="d" x="716.5" y="1614.6" font-size="22" text-anchor="middle">0.00</text><text class="d" x="693.7" y="1575.1" font-size="22" text-anchor="middle">0.25</text><text class="d" x="670.9" y="1535.6" font-size="22" text-anchor="middle">0.50</text><text class="d" x="648.1" y="1496.1" font-size="22" text-anchor="middle">0.75</text><text class="d" x="625.3" y="1456.6" font-size="22" text-anchor="middle">1.00</text><text class="d" x="602.5" y="1417.1" font-size="22" text-anchor="middle">1.25</text><text class="d" x="579.7" y="1377.7" font-size="22" text-anchor="middle">1.50</text><text class="d" x="556.9" y="1338.2" font-size="22" text-anchor="middle">1.75</text><text class="d" x="534.1" y="1298.7" font-size="22" text-anchor="middle">2.00</text><clipPath id="cpk"><path d="M1212.7 1591.9L1030.3 1276A364.8 364.8 0 0 1 1395.1 1276Z"/></clipPath><path d="M1212.7 1591.9L1030.3 1276A364.8 364.8 0 0 1 1395.1 1276Z" fill="#38286f"/><path d="M1212.7 1591.9L1087.9 1249.1M1212.7 1591.9L1149.4 1232.6M1212.7 1591.9L1212.7 1227.1M1212.7 1591.9L1276 1232.6M1212.7 1591.9L1337.5 1249.1M1189.9 1552.4A45.6 45.6 0 0 1 1235.5 1552.4M1167.1 1512.9A91.2 91.2 0 0 1 1258.3 1512.9M1144.3 1473.4A136.8 136.8 0 0 1 1281.1 1473.4M1121.5 1433.9A182.4 182.4 0 0 1 1303.9 1433.9M1098.7 1394.4A228 228 0 0 1 1326.7 1394.4M1075.9 1355A273.6 273.6 0 0 1 1349.5 1355M1053.1 1315.5A319.2 319.2 0 0 1 1372.3 1315.5" fill="none" stroke="#fff" stroke-opacity="0.45" stroke-width="0.85"/><g clip-path="url(#cpk)" fill="none" stroke-width="3.3" stroke-linecap="square" stroke-linejoin="miter"><path d="M1165.3 1461.4L1168.6 1468.8" stroke="#20eaac"/><path d="M1154.5 1456.4L1159.5 1460.6M1159.5 1460.6L1165.3 1461.4M1168.6 1468.8L1170.2 1449M1170.2 1449L1173.6 1455.6M1173.6 1455.6L1176 1449.8M1176 1449.8L1179.3 1458.1" stroke="#32f298"/><path d="M1147.1 1444.9L1154.5 1456.4M1179.3 1458.1L1178.5 1439.9M1252.1 1443.2L1253.7 1448.2" stroke="#46f884"/><path d="M1140.5 1440.7L1145.5 1451.5M1145.5 1451.5L1147.1 1444.9M1248.8 1436.6L1252.1 1443.2M1253.7 1448.2L1261.2 1430.8M1261.2 1430.8L1265.3 1444.9M1265.3 1444.9L1270.2 1433.3" stroke="#5dfc6f"/><path d="M1133.9 1432.5L1138 1446.5M1138 1446.5L1140.5 1440.7M1178.5 1439.9L1177.7 1421.7M1177.7 1421.7L1181.8 1426.7M1246.3 1420.1L1248.8 1436.6M1270.2 1433.3L1273.6 1435.8M1273.6 1435.8L1279.3 1439.1M1279.3 1439.1L1283.5 1430" stroke="#79fe59"/><path d="M1125.6 1439.1L1130.6 1436.6M1130.6 1436.6L1133.9 1432.5M1181.8 1426.7L1181.8 1408.5M1283.5 1430L1290.1 1425" stroke="#8fff49"/><path d="M1248.8 1392.8L1246.3 1420.1M1290.1 1425L1295.9 1414.3M1295.9 1414.3L1292.6 1433.3M1292.6 1433.3L1300.8 1422.6M1300.8 1422.6L1304.1 1428.3M1304.1 1428.3L1306.6 1425" stroke="#a4fc3c"/><path d="M1181.8 1408.5L1184.3 1393.6M1244.6 1387L1245.5 1408.5M1245.5 1408.5L1248.8 1392.8" stroke="#b4f836"/><path d="M1184.3 1393.6L1186.8 1390.3" stroke="#c3f134"/><path d="M1186.8 1390.3L1189.3 1375.5M1241.8 1382.1L1244.6 1387" stroke="#d4e735"/><path d="M1189.3 1375.5L1189.7 1358.9M1240.2 1360.6L1241.8 1382.1" stroke="#e1dd37"/><path d="M1189.7 1358.9L1190.1 1342.4M1241 1344.5L1240.2 1360.6" stroke="#f6c33a"/><path d="M1190.1 1342.4L1193.4 1335.8M1241.8 1328.3L1241 1344.5" stroke="#fea431"/><path d="M1193.4 1335.8L1195.9 1320.9M1235.5 1322.6L1238.8 1322.6M1238.8 1322.6L1241.8 1328.3" stroke="#fe932a"/><path d="M1195.9 1320.9L1200 1301.1M1227.3 1299.4L1226.4 1316M1226.4 1316L1233.9 1301.9M1233.9 1301.9L1235.5 1322.6" stroke="#f66c19"/><path d="M1200 1301.1L1202.5 1277.9M1226.4 1273L1227.3 1299.4" stroke="#e7490c"/><path d="M1202.5 1277.9L1205.8 1256.4M1211.6 1265.5L1219 1252.3M1223.1 1257.3L1226.4 1273" stroke="#c32503"/><path d="M1205.8 1256.4L1208.3 1246.5M1208.3 1246.5L1211.6 1265.5M1219 1252.3L1223.1 1257.3" stroke="#b41b01"/></g><path d="M1212.7 1591.9L1030.3 1276A364.8 364.8 0 0 1 1395.1 1276Z" fill="none" stroke="#000" stroke-width="1.4" stroke-linejoin="miter"/><text class="d" x="1018.2" y="1262.8" font-size="22" text-anchor="middle">-30°</text><text class="d" x="1079.7" y="1234.2" font-size="22" text-anchor="middle">-20°</text><text class="d" x="1145.2" y="1216.6" font-size="22" text-anchor="middle">-10°</text><text class="d" x="1212.7" y="1210.7" font-size="22" text-anchor="middle">0°</text><text class="d" x="1280.2" y="1216.6" font-size="22" text-anchor="middle">10°</text><text class="d" x="1345.7" y="1234.2" font-size="22" text-anchor="middle">20°</text><text class="d" x="1407.2" y="1262.8" font-size="22" text-anchor="middle">30°</text><path d="M1030.1 1275.5L1027.2 1270.5M1087.8 1248.6L1085.8 1243.2M1149.3 1232.1L1148.3 1226.4M1212.7 1226.6L1212.7 1220.8M1276.1 1232.1L1277.1 1226.4M1337.6 1248.6L1339.6 1243.2M1395.3 1275.5L1398.2 1270.5" fill="none" stroke="#000" stroke-width="1.1"/><text class="d" x="1179.2" y="1614.6" font-size="22" text-anchor="middle">0.00</text><text class="d" x="1156.4" y="1575.1" font-size="22" text-anchor="middle">0.25</text><text class="d" x="1133.6" y="1535.6" font-size="22" text-anchor="middle">0.50</text><text class="d" x="1110.8" y="1496.1" font-size="22" text-anchor="middle">0.75</text><text class="d" x="1088" y="1456.6" font-size="22" text-anchor="middle">1.00</text><text class="d" x="1065.2" y="1417.1" font-size="22" text-anchor="middle">1.25</text><text class="d" x="1042.4" y="1377.7" font-size="22" text-anchor="middle">1.50</text><text class="d" x="1019.6" y="1338.2" font-size="22" text-anchor="middle">1.75</text><text class="d" x="996.8" y="1298.7" font-size="22" text-anchor="middle">2.00</text><clipPath id="cpl"><path d="M1664.9 1591.9L1482.5 1276A364.8 364.8 0 0 1 1847.3 1276Z"/></clipPath><path d="M1664.9 1591.9L1482.5 1276A364.8 364.8 0 0 1 1847.3 1276Z" fill="#38286f"/><path d="M1664.9 1591.9L1540.1 1249.1M1664.9 1591.9L1601.6 1232.6M1664.9 1591.9L1664.9 1227.1M1664.9 1591.9L1728.2 1232.6M1664.9 1591.9L1789.7 1249.1M1642.1 1552.4A45.6 45.6 0 0 1 1687.7 1552.4M1619.3 1512.9A91.2 91.2 0 0 1 1710.5 1512.9M1596.5 1473.4A136.8 136.8 0 0 1 1733.3 1473.4M1573.7 1433.9A182.4 182.4 0 0 1 1756.1 1433.9M1550.9 1394.4A228 228 0 0 1 1778.9 1394.4M1528.1 1355A273.6 273.6 0 0 1 1801.7 1355M1505.3 1315.5A319.2 319.2 0 0 1 1824.5 1315.5" fill="none" stroke="#fff" stroke-opacity="0.45" stroke-width="0.85"/><g clip-path="url(#cpl)" fill="none" stroke-width="3.3" stroke-linecap="square" stroke-linejoin="miter"><path d="M1596.3 1467.9L1602.1 1478.7M1602.1 1478.7L1601.3 1466.3M1601.3 1466.3L1607.9 1479.5" stroke="#20eaac"/><path d="M1607.9 1479.5L1604.6 1454.7M1604.6 1454.7L1611.2 1477.9M1611.2 1477.9L1609.5 1454.7M1609.5 1454.7L1615.3 1463M1720.3 1454.7L1717.8 1461.3M1730.2 1471.2L1738.5 1461.3" stroke="#32f298"/><path d="M1615.3 1463L1612.9 1436.5M1716.2 1441.5L1720.3 1454.7M1717.8 1461.3L1721.9 1449.8M1721.9 1449.8L1726.9 1463M1726.9 1463L1732.7 1453.1M1732.7 1453.1L1730.2 1471.2" stroke="#46f884"/><path d="M1612.9 1436.5L1621.1 1449.8M1621.1 1449.8L1617.8 1433.2" stroke="#5dfc6f"/><path d="M1617.8 1433.2L1622.8 1434.9M1622.8 1434.9L1619.5 1420M1714.5 1434.9L1712 1420M1718.6 1429.9L1716.2 1441.5" stroke="#79fe59"/><path d="M1619.5 1420L1626.1 1429.1M1626.1 1429.1L1624.4 1409.3M1711.2 1416.7L1714.5 1434.9M1712 1420L1718.6 1429.9" stroke="#8fff49"/><path d="M1624.4 1409.3L1627.4 1406.8" stroke="#a4fc3c"/><path d="M1627.4 1406.8L1626.4 1392.5M1713.7 1393.6L1711.2 1416.7" stroke="#b4f836"/><path d="M1712 1386.9L1713.7 1393.6" stroke="#c3f134"/><path d="M1626.4 1392.5L1625.4 1378.1" stroke="#d4e735"/><path d="M1625.4 1378.1L1624.4 1363.8M1714.5 1365.5L1712 1386.9" stroke="#e1dd37"/><path d="M1624.4 1363.8L1621.9 1360.5M1621.9 1360.5L1626.1 1362.1M1662.4 1349.8L1667.4 1368.8M1667.4 1368.8L1669 1358M1677.3 1363L1680.6 1352.2" stroke="#eecf3a"/><path d="M1626.1 1362.1L1625.2 1342.3M1654.2 1352.2L1656.7 1348.1M1656.7 1348.1L1660 1351.4M1660 1351.4L1662.4 1349.8M1669 1358L1674.8 1353.9M1674.8 1353.9L1676.5 1343.1M1676.5 1343.1L1677.3 1363M1713.7 1345.6L1714.5 1365.5" stroke="#f6c33a"/><path d="M1652.5 1339L1654.2 1352.2M1680.6 1352.2L1683.5 1335.7" stroke="#fbb637"/><path d="M1647.6 1325.8L1652.5 1339" stroke="#fea431"/><path d="M1625.2 1342.3L1624.4 1322.5M1683.5 1335.7L1686.4 1319.2M1716.2 1319.2L1713.7 1345.6" stroke="#fe932a"/><path d="M1712 1320.8L1716.2 1319.2" stroke="#fb7e21"/><path d="M1624.4 1322.5L1623.8 1306.8M1643.4 1298.5L1647.6 1325.8M1686.4 1319.2L1690.5 1292.7M1714.5 1306L1712 1320.8" stroke="#f66c19"/><path d="M1623.8 1306.8L1623.1 1291.1M1640.1 1301L1643.4 1298.5" stroke="#f05b12"/><path d="M1623.1 1291.1L1626.4 1290.2M1635.2 1280.3L1640.1 1301M1716.2 1281.2L1714.5 1306" stroke="#e7490c"/><path d="M1626.4 1290.2L1627.1 1270.4M1690.5 1292.7L1695.5 1277.9" stroke="#dd3d08"/><path d="M1631.4 1265.5L1635.2 1280.3M1716.4 1266.3L1716.2 1281.2" stroke="#d02f05"/><path d="M1695.5 1277.9L1701.3 1254.7" stroke="#c32503"/><path d="M1627.1 1270.4L1627.7 1250.6M1627.7 1250.6L1631.4 1265.5M1716.7 1251.4L1716.4 1266.3" stroke="#b41b01"/><path d="M1701.3 1254.7L1705.4 1247.3M1705.4 1247.3L1709.5 1256.4M1709.5 1256.4L1714.5 1238.2M1714.5 1238.2L1716.7 1251.4" stroke="#a11201"/></g><path d="M1664.9 1591.9L1482.5 1276A364.8 364.8 0 0 1 1847.3 1276Z" fill="none" stroke="#000" stroke-width="1.4" stroke-linejoin="miter"/><text class="d" x="1470.4" y="1262.8" font-size="22" text-anchor="middle">-30°</text><text class="d" x="1531.9" y="1234.2" font-size="22" text-anchor="middle">-20°</text><text class="d" x="1597.4" y="1216.6" font-size="22" text-anchor="middle">-10°</text><text class="d" x="1664.9" y="1210.7" font-size="22" text-anchor="middle">0°</text><text class="d" x="1732.4" y="1216.6" font-size="22" text-anchor="middle">10°</text><text class="d" x="1797.9" y="1234.2" font-size="22" text-anchor="middle">20°</text><text class="d" x="1859.4" y="1262.8" font-size="22" text-anchor="middle">30°</text><path d="M1482.2 1275.5L1479.4 1270.5M1540 1248.6L1538 1243.2M1601.5 1232.1L1600.5 1226.4M1664.9 1226.6L1664.9 1220.8M1728.3 1232.1L1729.3 1226.4M1789.8 1248.6L1791.8 1243.2M1847.6 1275.5L1850.5 1270.5" fill="none" stroke="#000" stroke-width="1.1"/><text class="d" x="1631.4" y="1614.6" font-size="22" text-anchor="middle">0.00</text><text class="d" x="1608.6" y="1575.1" font-size="22" text-anchor="middle">0.25</text><text class="d" x="1585.8" y="1535.6" font-size="22" text-anchor="middle">0.50</text><text class="d" x="1563" y="1496.1" font-size="22" text-anchor="middle">0.75</text><text class="d" x="1540.2" y="1456.6" font-size="22" text-anchor="middle">1.00</text><text class="d" x="1517.4" y="1417.1" font-size="22" text-anchor="middle">1.25</text><text class="d" x="1494.6" y="1377.7" font-size="22" text-anchor="middle">1.50</text><text class="d" x="1471.8" y="1338.2" font-size="22" text-anchor="middle">1.75</text><text class="d" x="1449" y="1298.7" font-size="22" text-anchor="middle">2.00</text>
</svg>
</body></html>
